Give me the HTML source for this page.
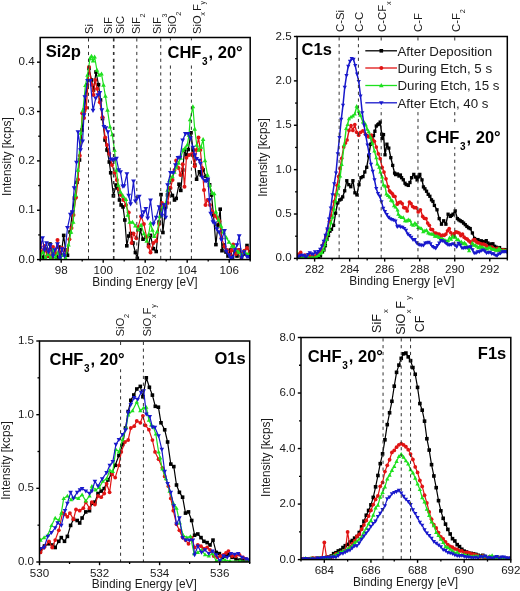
<!DOCTYPE html>
<html><head><meta charset="utf-8"><title>XPS spectra</title>
<style>html,body{margin:0;padding:0;background:#fff;width:520px;height:591px;overflow:hidden}svg{display:block}</style>
</head><body>
<svg width="520" height="591" viewBox="0 0 520 591" font-family='"Liberation Sans", Arial, sans-serif' fill="#1a1a1a">
<rect width="520" height="591" fill="#fff"/>
<defs>
<clipPath id="clip_si"><rect x="40.20" y="35.50" width="210.00" height="224.10"/></clipPath>
<clipPath id="clip_c"><rect x="297.10" y="34.50" width="210.20" height="223.90"/></clipPath>
<clipPath id="clip_o"><rect x="39.50" y="339.00" width="210.20" height="223.00"/></clipPath>
<clipPath id="clip_f"><rect x="301.00" y="335.50" width="209.80" height="224.10"/></clipPath>
</defs>
<g clip-path="url(#clip_si)">
<polyline points="40.50,252.00 43.00,258.00 45.00,249.00 48.00,256.00 50.00,244.00 52.00,257.00 54.50,252.00 57.00,258.00 59.00,247.00 61.00,255.00 63.70,235.40 65.50,250.00 67.50,255.30 70.00,232.00 72.30,212.60 74.50,198.00 77.00,182.30 79.50,160.00 82.00,130.00 84.50,110.00 87.00,85.00 89.00,68.50 91.50,80.00 93.50,90.00 96.00,72.00 98.50,84.70 100.50,100.00 102.50,118.60 105.00,140.00 107.00,150.00 109.30,162.00 110.70,172.80 113.40,195.80 116.00,185.00 117.30,188.00 119.50,200.00 121.10,205.00 123.00,206.90 124.80,220.00 126.80,245.80 128.70,236.00 130.60,233.50 133.00,243.00 135.40,252.50 137.30,258.20 140.10,229.70 143.00,239.20 145.80,237.30 148.60,244.90 150.50,235.40 153.40,248.70 156.20,251.50 159.10,222.10 161.00,194.60 162.90,232.50 165.70,206.90 167.50,195.00 169.50,188.00 172.40,195.50 174.50,200.00 176.20,198.40 179.00,184.20 180.80,190.40 182.70,170.00 184.50,150.40 186.40,155.00 188.20,149.50 191.00,132.80 193.00,150.00 194.80,165.00 196.60,179.20 199.40,171.80 201.20,175.00 203.10,169.90 205.90,176.40 207.80,180.00 209.60,184.80 211.50,195.00 213.50,215.00 215.90,244.60 218.00,225.00 220.20,209.20 222.00,250.70 224.00,245.00 226.00,252.00 228.00,256.00 230.50,250.00 232.50,257.00 235.00,252.00 237.00,256.00 239.50,250.00 241.50,257.00 244.00,254.00 247.00,245.50 249.80,255.00" fill="none" stroke="#000000" stroke-width="1.20" stroke-linejoin="round"/>
<rect x="38.70" y="250.20" width="3.60" height="3.60" fill="#000000"/>
<rect x="41.20" y="256.20" width="3.60" height="3.60" fill="#000000"/>
<rect x="43.20" y="247.20" width="3.60" height="3.60" fill="#000000"/>
<rect x="46.20" y="254.20" width="3.60" height="3.60" fill="#000000"/>
<rect x="48.20" y="242.20" width="3.60" height="3.60" fill="#000000"/>
<rect x="50.20" y="255.20" width="3.60" height="3.60" fill="#000000"/>
<rect x="52.70" y="250.20" width="3.60" height="3.60" fill="#000000"/>
<rect x="55.20" y="256.20" width="3.60" height="3.60" fill="#000000"/>
<rect x="57.20" y="245.20" width="3.60" height="3.60" fill="#000000"/>
<rect x="59.20" y="253.20" width="3.60" height="3.60" fill="#000000"/>
<rect x="61.90" y="233.60" width="3.60" height="3.60" fill="#000000"/>
<rect x="63.70" y="248.20" width="3.60" height="3.60" fill="#000000"/>
<rect x="65.70" y="253.50" width="3.60" height="3.60" fill="#000000"/>
<rect x="68.20" y="230.20" width="3.60" height="3.60" fill="#000000"/>
<rect x="70.50" y="210.80" width="3.60" height="3.60" fill="#000000"/>
<rect x="72.70" y="196.20" width="3.60" height="3.60" fill="#000000"/>
<rect x="75.20" y="180.50" width="3.60" height="3.60" fill="#000000"/>
<rect x="77.70" y="158.20" width="3.60" height="3.60" fill="#000000"/>
<rect x="80.20" y="128.20" width="3.60" height="3.60" fill="#000000"/>
<rect x="82.70" y="108.20" width="3.60" height="3.60" fill="#000000"/>
<rect x="85.20" y="83.20" width="3.60" height="3.60" fill="#000000"/>
<rect x="87.20" y="66.70" width="3.60" height="3.60" fill="#000000"/>
<rect x="89.70" y="78.20" width="3.60" height="3.60" fill="#000000"/>
<rect x="91.70" y="88.20" width="3.60" height="3.60" fill="#000000"/>
<rect x="94.20" y="70.20" width="3.60" height="3.60" fill="#000000"/>
<rect x="96.70" y="82.90" width="3.60" height="3.60" fill="#000000"/>
<rect x="98.70" y="98.20" width="3.60" height="3.60" fill="#000000"/>
<rect x="100.70" y="116.80" width="3.60" height="3.60" fill="#000000"/>
<rect x="103.20" y="138.20" width="3.60" height="3.60" fill="#000000"/>
<rect x="105.20" y="148.20" width="3.60" height="3.60" fill="#000000"/>
<rect x="107.50" y="160.20" width="3.60" height="3.60" fill="#000000"/>
<rect x="108.90" y="171.00" width="3.60" height="3.60" fill="#000000"/>
<rect x="111.60" y="194.00" width="3.60" height="3.60" fill="#000000"/>
<rect x="114.20" y="183.20" width="3.60" height="3.60" fill="#000000"/>
<rect x="115.50" y="186.20" width="3.60" height="3.60" fill="#000000"/>
<rect x="117.70" y="198.20" width="3.60" height="3.60" fill="#000000"/>
<rect x="119.30" y="203.20" width="3.60" height="3.60" fill="#000000"/>
<rect x="121.20" y="205.10" width="3.60" height="3.60" fill="#000000"/>
<rect x="123.00" y="218.20" width="3.60" height="3.60" fill="#000000"/>
<rect x="125.00" y="244.00" width="3.60" height="3.60" fill="#000000"/>
<rect x="126.90" y="234.20" width="3.60" height="3.60" fill="#000000"/>
<rect x="128.80" y="231.70" width="3.60" height="3.60" fill="#000000"/>
<rect x="131.20" y="241.20" width="3.60" height="3.60" fill="#000000"/>
<rect x="133.60" y="250.70" width="3.60" height="3.60" fill="#000000"/>
<rect x="135.50" y="256.40" width="3.60" height="3.60" fill="#000000"/>
<rect x="138.30" y="227.90" width="3.60" height="3.60" fill="#000000"/>
<rect x="141.20" y="237.40" width="3.60" height="3.60" fill="#000000"/>
<rect x="144.00" y="235.50" width="3.60" height="3.60" fill="#000000"/>
<rect x="146.80" y="243.10" width="3.60" height="3.60" fill="#000000"/>
<rect x="148.70" y="233.60" width="3.60" height="3.60" fill="#000000"/>
<rect x="151.60" y="246.90" width="3.60" height="3.60" fill="#000000"/>
<rect x="154.40" y="249.70" width="3.60" height="3.60" fill="#000000"/>
<rect x="157.30" y="220.30" width="3.60" height="3.60" fill="#000000"/>
<rect x="159.20" y="192.80" width="3.60" height="3.60" fill="#000000"/>
<rect x="161.10" y="230.70" width="3.60" height="3.60" fill="#000000"/>
<rect x="163.90" y="205.10" width="3.60" height="3.60" fill="#000000"/>
<rect x="165.70" y="193.20" width="3.60" height="3.60" fill="#000000"/>
<rect x="167.70" y="186.20" width="3.60" height="3.60" fill="#000000"/>
<rect x="170.60" y="193.70" width="3.60" height="3.60" fill="#000000"/>
<rect x="172.70" y="198.20" width="3.60" height="3.60" fill="#000000"/>
<rect x="174.40" y="196.60" width="3.60" height="3.60" fill="#000000"/>
<rect x="177.20" y="182.40" width="3.60" height="3.60" fill="#000000"/>
<rect x="179.00" y="188.60" width="3.60" height="3.60" fill="#000000"/>
<rect x="180.90" y="168.20" width="3.60" height="3.60" fill="#000000"/>
<rect x="182.70" y="148.60" width="3.60" height="3.60" fill="#000000"/>
<rect x="184.60" y="153.20" width="3.60" height="3.60" fill="#000000"/>
<rect x="186.40" y="147.70" width="3.60" height="3.60" fill="#000000"/>
<rect x="189.20" y="131.00" width="3.60" height="3.60" fill="#000000"/>
<rect x="191.20" y="148.20" width="3.60" height="3.60" fill="#000000"/>
<rect x="193.00" y="163.20" width="3.60" height="3.60" fill="#000000"/>
<rect x="194.80" y="177.40" width="3.60" height="3.60" fill="#000000"/>
<rect x="197.60" y="170.00" width="3.60" height="3.60" fill="#000000"/>
<rect x="199.40" y="173.20" width="3.60" height="3.60" fill="#000000"/>
<rect x="201.30" y="168.10" width="3.60" height="3.60" fill="#000000"/>
<rect x="204.10" y="174.60" width="3.60" height="3.60" fill="#000000"/>
<rect x="206.00" y="178.20" width="3.60" height="3.60" fill="#000000"/>
<rect x="207.80" y="183.00" width="3.60" height="3.60" fill="#000000"/>
<rect x="209.70" y="193.20" width="3.60" height="3.60" fill="#000000"/>
<rect x="211.70" y="213.20" width="3.60" height="3.60" fill="#000000"/>
<rect x="214.10" y="242.80" width="3.60" height="3.60" fill="#000000"/>
<rect x="216.20" y="223.20" width="3.60" height="3.60" fill="#000000"/>
<rect x="218.40" y="207.40" width="3.60" height="3.60" fill="#000000"/>
<rect x="220.20" y="248.90" width="3.60" height="3.60" fill="#000000"/>
<rect x="222.20" y="243.20" width="3.60" height="3.60" fill="#000000"/>
<rect x="224.20" y="250.20" width="3.60" height="3.60" fill="#000000"/>
<rect x="226.20" y="254.20" width="3.60" height="3.60" fill="#000000"/>
<rect x="228.70" y="248.20" width="3.60" height="3.60" fill="#000000"/>
<rect x="230.70" y="255.20" width="3.60" height="3.60" fill="#000000"/>
<rect x="233.20" y="250.20" width="3.60" height="3.60" fill="#000000"/>
<rect x="235.20" y="254.20" width="3.60" height="3.60" fill="#000000"/>
<rect x="237.70" y="248.20" width="3.60" height="3.60" fill="#000000"/>
<rect x="239.70" y="255.20" width="3.60" height="3.60" fill="#000000"/>
<rect x="242.20" y="252.20" width="3.60" height="3.60" fill="#000000"/>
<rect x="245.20" y="243.70" width="3.60" height="3.60" fill="#000000"/>
<rect x="248.00" y="253.20" width="3.60" height="3.60" fill="#000000"/>
<polyline points="40.50,243.00 42.50,252.00 44.50,246.00 47.00,256.00 49.00,250.00 51.00,258.00 53.00,247.00 55.50,254.00 57.50,240.00 60.00,256.00 62.00,248.00 64.50,255.00 67.00,250.00 69.40,239.20 71.50,228.00 73.50,215.00 76.00,197.40 78.00,179.40 79.80,155.70 82.20,113.20 84.00,118.00 86.30,107.80 89.00,67.10 91.70,84.70 93.50,95.00 95.30,80.00 97.10,88.80 99.80,102.30 102.50,117.20 105.20,137.60 107.00,145.00 109.30,153.80 112.00,165.00 114.70,172.80 116.80,180.00 118.80,189.00 121.00,195.00 123.50,200.00 126.00,205.00 128.70,212.60 131.60,243.00 133.50,233.50 136.30,238.20 138.20,226.90 141.10,216.40 143.90,224.00 146.70,237.30 148.60,246.80 150.50,252.50 153.40,243.00 156.20,241.10 159.10,224.00 161.90,203.10 164.80,205.00 167.60,203.10 170.50,188.00 172.50,180.00 174.50,170.00 176.20,160.60 178.50,168.00 180.50,175.00 182.70,164.30 184.50,186.70 186.40,157.80 189.20,155.10 192.00,154.10 194.70,166.20 196.50,150.00 198.50,137.40 200.30,150.00 202.20,168.10 204.00,190.00 205.50,204.90 207.50,200.00 210.00,205.00 212.50,212.00 215.00,216.00 217.50,218.00 219.40,221.30 221.50,238.00 224.50,246.40 227.00,250.00 230.00,255.00 231.60,250.44 233.20,244.60 236.00,254.00 238.50,250.00 241.00,256.00 242.70,253.18 244.40,250.70 247.00,248.00 249.80,252.00" fill="none" stroke="#e01414" stroke-width="1.20" stroke-linejoin="round"/>
<circle cx="40.50" cy="243.00" r="2.00" fill="#e01414"/>
<circle cx="42.50" cy="252.00" r="2.00" fill="#e01414"/>
<circle cx="44.50" cy="246.00" r="2.00" fill="#e01414"/>
<circle cx="47.00" cy="256.00" r="2.00" fill="#e01414"/>
<circle cx="49.00" cy="250.00" r="2.00" fill="#e01414"/>
<circle cx="51.00" cy="258.00" r="2.00" fill="#e01414"/>
<circle cx="53.00" cy="247.00" r="2.00" fill="#e01414"/>
<circle cx="55.50" cy="254.00" r="2.00" fill="#e01414"/>
<circle cx="57.50" cy="240.00" r="2.00" fill="#e01414"/>
<circle cx="60.00" cy="256.00" r="2.00" fill="#e01414"/>
<circle cx="62.00" cy="248.00" r="2.00" fill="#e01414"/>
<circle cx="64.50" cy="255.00" r="2.00" fill="#e01414"/>
<circle cx="67.00" cy="250.00" r="2.00" fill="#e01414"/>
<circle cx="69.40" cy="239.20" r="2.00" fill="#e01414"/>
<circle cx="71.50" cy="228.00" r="2.00" fill="#e01414"/>
<circle cx="73.50" cy="215.00" r="2.00" fill="#e01414"/>
<circle cx="76.00" cy="197.40" r="2.00" fill="#e01414"/>
<circle cx="78.00" cy="179.40" r="2.00" fill="#e01414"/>
<circle cx="79.80" cy="155.70" r="2.00" fill="#e01414"/>
<circle cx="82.20" cy="113.20" r="2.00" fill="#e01414"/>
<circle cx="84.00" cy="118.00" r="2.00" fill="#e01414"/>
<circle cx="86.30" cy="107.80" r="2.00" fill="#e01414"/>
<circle cx="89.00" cy="67.10" r="2.00" fill="#e01414"/>
<circle cx="91.70" cy="84.70" r="2.00" fill="#e01414"/>
<circle cx="93.50" cy="95.00" r="2.00" fill="#e01414"/>
<circle cx="95.30" cy="80.00" r="2.00" fill="#e01414"/>
<circle cx="97.10" cy="88.80" r="2.00" fill="#e01414"/>
<circle cx="99.80" cy="102.30" r="2.00" fill="#e01414"/>
<circle cx="102.50" cy="117.20" r="2.00" fill="#e01414"/>
<circle cx="105.20" cy="137.60" r="2.00" fill="#e01414"/>
<circle cx="107.00" cy="145.00" r="2.00" fill="#e01414"/>
<circle cx="109.30" cy="153.80" r="2.00" fill="#e01414"/>
<circle cx="112.00" cy="165.00" r="2.00" fill="#e01414"/>
<circle cx="114.70" cy="172.80" r="2.00" fill="#e01414"/>
<circle cx="116.80" cy="180.00" r="2.00" fill="#e01414"/>
<circle cx="118.80" cy="189.00" r="2.00" fill="#e01414"/>
<circle cx="121.00" cy="195.00" r="2.00" fill="#e01414"/>
<circle cx="123.50" cy="200.00" r="2.00" fill="#e01414"/>
<circle cx="126.00" cy="205.00" r="2.00" fill="#e01414"/>
<circle cx="128.70" cy="212.60" r="2.00" fill="#e01414"/>
<circle cx="131.60" cy="243.00" r="2.00" fill="#e01414"/>
<circle cx="133.50" cy="233.50" r="2.00" fill="#e01414"/>
<circle cx="136.30" cy="238.20" r="2.00" fill="#e01414"/>
<circle cx="138.20" cy="226.90" r="2.00" fill="#e01414"/>
<circle cx="141.10" cy="216.40" r="2.00" fill="#e01414"/>
<circle cx="143.90" cy="224.00" r="2.00" fill="#e01414"/>
<circle cx="146.70" cy="237.30" r="2.00" fill="#e01414"/>
<circle cx="148.60" cy="246.80" r="2.00" fill="#e01414"/>
<circle cx="150.50" cy="252.50" r="2.00" fill="#e01414"/>
<circle cx="153.40" cy="243.00" r="2.00" fill="#e01414"/>
<circle cx="156.20" cy="241.10" r="2.00" fill="#e01414"/>
<circle cx="159.10" cy="224.00" r="2.00" fill="#e01414"/>
<circle cx="161.90" cy="203.10" r="2.00" fill="#e01414"/>
<circle cx="164.80" cy="205.00" r="2.00" fill="#e01414"/>
<circle cx="167.60" cy="203.10" r="2.00" fill="#e01414"/>
<circle cx="170.50" cy="188.00" r="2.00" fill="#e01414"/>
<circle cx="172.50" cy="180.00" r="2.00" fill="#e01414"/>
<circle cx="174.50" cy="170.00" r="2.00" fill="#e01414"/>
<circle cx="176.20" cy="160.60" r="2.00" fill="#e01414"/>
<circle cx="178.50" cy="168.00" r="2.00" fill="#e01414"/>
<circle cx="180.50" cy="175.00" r="2.00" fill="#e01414"/>
<circle cx="182.70" cy="164.30" r="2.00" fill="#e01414"/>
<circle cx="184.50" cy="186.70" r="2.00" fill="#e01414"/>
<circle cx="186.40" cy="157.80" r="2.00" fill="#e01414"/>
<circle cx="189.20" cy="155.10" r="2.00" fill="#e01414"/>
<circle cx="192.00" cy="154.10" r="2.00" fill="#e01414"/>
<circle cx="194.70" cy="166.20" r="2.00" fill="#e01414"/>
<circle cx="196.50" cy="150.00" r="2.00" fill="#e01414"/>
<circle cx="198.50" cy="137.40" r="2.00" fill="#e01414"/>
<circle cx="200.30" cy="150.00" r="2.00" fill="#e01414"/>
<circle cx="202.20" cy="168.10" r="2.00" fill="#e01414"/>
<circle cx="204.00" cy="190.00" r="2.00" fill="#e01414"/>
<circle cx="205.50" cy="204.90" r="2.00" fill="#e01414"/>
<circle cx="207.50" cy="200.00" r="2.00" fill="#e01414"/>
<circle cx="210.00" cy="205.00" r="2.00" fill="#e01414"/>
<circle cx="212.50" cy="212.00" r="2.00" fill="#e01414"/>
<circle cx="215.00" cy="216.00" r="2.00" fill="#e01414"/>
<circle cx="217.50" cy="218.00" r="2.00" fill="#e01414"/>
<circle cx="219.40" cy="221.30" r="2.00" fill="#e01414"/>
<circle cx="221.50" cy="238.00" r="2.00" fill="#e01414"/>
<circle cx="224.50" cy="246.40" r="2.00" fill="#e01414"/>
<circle cx="227.00" cy="250.00" r="2.00" fill="#e01414"/>
<circle cx="230.00" cy="255.00" r="2.00" fill="#e01414"/>
<circle cx="231.60" cy="250.44" r="2.00" fill="#e01414"/>
<circle cx="233.20" cy="244.60" r="2.00" fill="#e01414"/>
<circle cx="236.00" cy="254.00" r="2.00" fill="#e01414"/>
<circle cx="238.50" cy="250.00" r="2.00" fill="#e01414"/>
<circle cx="241.00" cy="256.00" r="2.00" fill="#e01414"/>
<circle cx="242.70" cy="253.18" r="2.00" fill="#e01414"/>
<circle cx="244.40" cy="250.70" r="2.00" fill="#e01414"/>
<circle cx="247.00" cy="248.00" r="2.00" fill="#e01414"/>
<circle cx="249.80" cy="252.00" r="2.00" fill="#e01414"/>
<polyline points="40.50,257.00 43.00,252.00 45.50,258.00 48.00,254.00 50.50,258.00 53.00,250.00 55.50,257.00 58.00,253.00 60.50,258.00 63.00,255.00 65.50,258.00 68.50,244.90 71.00,232.00 73.20,222.10 75.50,195.00 78.00,170.00 80.80,133.10 83.00,110.00 85.40,85.40 87.50,75.00 90.00,58.50 91.50,56.20 93.10,60.80 94.60,56.90 96.90,70.00 99.00,75.00 101.50,73.80 103.50,85.00 105.40,96.20 107.50,110.00 110.00,126.90 112.30,134.60 114.50,150.00 116.50,170.00 118.30,185.10 120.50,192.00 123.00,196.00 125.90,199.30 127.80,215.00 129.70,222.10 132.50,222.10 135.40,225.90 138.20,229.70 141.10,225.00 143.90,233.50 146.70,241.10 148.60,234.70 150.50,223.10 152.40,230.00 154.30,236.30 157.20,231.60 160.00,216.40 162.90,206.90 165.70,203.10 167.60,190.00 169.50,180.40 172.40,176.60 174.30,172.00 176.20,167.10 178.50,163.00 180.60,158.00 183.00,150.00 185.20,148.00 187.30,144.80 189.00,135.00 190.10,119.70 192.90,106.70 194.70,129.00 196.80,145.00 198.80,150.00 201.00,147.00 203.10,139.30 205.00,160.60 207.50,175.00 209.50,185.00 212.40,193.20 214.20,193.70 215.90,211.80 218.50,220.00 221.00,226.00 223.50,232.00 226.30,237.70 229.00,242.00 232.00,246.00 233.90,246.57 235.80,249.80 238.50,252.00 241.50,255.00 244.50,252.00 247.00,254.00 249.60,253.30" fill="none" stroke="#1ee01e" stroke-width="1.20" stroke-linejoin="round"/>
<path d="M40.50 254.62L42.80 258.66L38.20 258.66Z" fill="#1ee01e"/>
<path d="M43.00 249.62L45.30 253.66L40.70 253.66Z" fill="#1ee01e"/>
<path d="M45.50 255.62L47.80 259.66L43.20 259.66Z" fill="#1ee01e"/>
<path d="M48.00 251.62L50.30 255.66L45.70 255.66Z" fill="#1ee01e"/>
<path d="M50.50 255.62L52.80 259.66L48.20 259.66Z" fill="#1ee01e"/>
<path d="M53.00 247.62L55.30 251.66L50.70 251.66Z" fill="#1ee01e"/>
<path d="M55.50 254.62L57.80 258.66L53.20 258.66Z" fill="#1ee01e"/>
<path d="M58.00 250.62L60.30 254.66L55.70 254.66Z" fill="#1ee01e"/>
<path d="M60.50 255.62L62.80 259.66L58.20 259.66Z" fill="#1ee01e"/>
<path d="M63.00 252.62L65.30 256.66L60.70 256.66Z" fill="#1ee01e"/>
<path d="M65.50 255.62L67.80 259.66L63.20 259.66Z" fill="#1ee01e"/>
<path d="M68.50 242.52L70.80 246.56L66.20 246.56Z" fill="#1ee01e"/>
<path d="M71.00 229.62L73.30 233.66L68.70 233.66Z" fill="#1ee01e"/>
<path d="M73.20 219.72L75.50 223.76L70.90 223.76Z" fill="#1ee01e"/>
<path d="M75.50 192.62L77.80 196.66L73.20 196.66Z" fill="#1ee01e"/>
<path d="M78.00 167.62L80.30 171.66L75.70 171.66Z" fill="#1ee01e"/>
<path d="M80.80 130.72L83.10 134.76L78.50 134.76Z" fill="#1ee01e"/>
<path d="M83.00 107.62L85.30 111.66L80.70 111.66Z" fill="#1ee01e"/>
<path d="M85.40 83.02L87.70 87.06L83.10 87.06Z" fill="#1ee01e"/>
<path d="M87.50 72.62L89.80 76.66L85.20 76.66Z" fill="#1ee01e"/>
<path d="M90.00 56.12L92.30 60.16L87.70 60.16Z" fill="#1ee01e"/>
<path d="M91.50 53.82L93.80 57.86L89.20 57.86Z" fill="#1ee01e"/>
<path d="M93.10 58.42L95.40 62.46L90.80 62.46Z" fill="#1ee01e"/>
<path d="M94.60 54.52L96.90 58.56L92.30 58.56Z" fill="#1ee01e"/>
<path d="M96.90 67.62L99.20 71.66L94.60 71.66Z" fill="#1ee01e"/>
<path d="M99.00 72.62L101.30 76.66L96.70 76.66Z" fill="#1ee01e"/>
<path d="M101.50 71.42L103.80 75.46L99.20 75.46Z" fill="#1ee01e"/>
<path d="M103.50 82.62L105.80 86.66L101.20 86.66Z" fill="#1ee01e"/>
<path d="M105.40 93.82L107.70 97.86L103.10 97.86Z" fill="#1ee01e"/>
<path d="M107.50 107.62L109.80 111.66L105.20 111.66Z" fill="#1ee01e"/>
<path d="M110.00 124.52L112.30 128.56L107.70 128.56Z" fill="#1ee01e"/>
<path d="M112.30 132.22L114.60 136.26L110.00 136.26Z" fill="#1ee01e"/>
<path d="M114.50 147.62L116.80 151.66L112.20 151.66Z" fill="#1ee01e"/>
<path d="M116.50 167.62L118.80 171.66L114.20 171.66Z" fill="#1ee01e"/>
<path d="M118.30 182.72L120.60 186.76L116.00 186.76Z" fill="#1ee01e"/>
<path d="M120.50 189.62L122.80 193.66L118.20 193.66Z" fill="#1ee01e"/>
<path d="M123.00 193.62L125.30 197.66L120.70 197.66Z" fill="#1ee01e"/>
<path d="M125.90 196.92L128.20 200.96L123.60 200.96Z" fill="#1ee01e"/>
<path d="M127.80 212.62L130.10 216.66L125.50 216.66Z" fill="#1ee01e"/>
<path d="M129.70 219.72L132.00 223.76L127.40 223.76Z" fill="#1ee01e"/>
<path d="M132.50 219.72L134.80 223.76L130.20 223.76Z" fill="#1ee01e"/>
<path d="M135.40 223.52L137.70 227.56L133.10 227.56Z" fill="#1ee01e"/>
<path d="M138.20 227.32L140.50 231.36L135.90 231.36Z" fill="#1ee01e"/>
<path d="M141.10 222.62L143.40 226.66L138.80 226.66Z" fill="#1ee01e"/>
<path d="M143.90 231.12L146.20 235.16L141.60 235.16Z" fill="#1ee01e"/>
<path d="M146.70 238.72L149.00 242.76L144.40 242.76Z" fill="#1ee01e"/>
<path d="M148.60 232.33L150.90 236.37L146.30 236.37Z" fill="#1ee01e"/>
<path d="M150.50 220.72L152.80 224.76L148.20 224.76Z" fill="#1ee01e"/>
<path d="M152.40 227.62L154.70 231.66L150.10 231.66Z" fill="#1ee01e"/>
<path d="M154.30 233.92L156.60 237.96L152.00 237.96Z" fill="#1ee01e"/>
<path d="M157.20 229.22L159.50 233.26L154.90 233.26Z" fill="#1ee01e"/>
<path d="M160.00 214.02L162.30 218.06L157.70 218.06Z" fill="#1ee01e"/>
<path d="M162.90 204.52L165.20 208.56L160.60 208.56Z" fill="#1ee01e"/>
<path d="M165.70 200.72L168.00 204.76L163.40 204.76Z" fill="#1ee01e"/>
<path d="M167.60 187.62L169.90 191.66L165.30 191.66Z" fill="#1ee01e"/>
<path d="M169.50 178.02L171.80 182.06L167.20 182.06Z" fill="#1ee01e"/>
<path d="M172.40 174.22L174.70 178.26L170.10 178.26Z" fill="#1ee01e"/>
<path d="M174.30 169.62L176.60 173.66L172.00 173.66Z" fill="#1ee01e"/>
<path d="M176.20 164.72L178.50 168.76L173.90 168.76Z" fill="#1ee01e"/>
<path d="M178.50 160.62L180.80 164.66L176.20 164.66Z" fill="#1ee01e"/>
<path d="M180.60 155.62L182.90 159.66L178.30 159.66Z" fill="#1ee01e"/>
<path d="M183.00 147.62L185.30 151.66L180.70 151.66Z" fill="#1ee01e"/>
<path d="M185.20 145.62L187.50 149.66L182.90 149.66Z" fill="#1ee01e"/>
<path d="M187.30 142.42L189.60 146.46L185.00 146.46Z" fill="#1ee01e"/>
<path d="M189.00 132.62L191.30 136.66L186.70 136.66Z" fill="#1ee01e"/>
<path d="M190.10 117.32L192.40 121.36L187.80 121.36Z" fill="#1ee01e"/>
<path d="M192.90 104.32L195.20 108.36L190.60 108.36Z" fill="#1ee01e"/>
<path d="M194.70 126.62L197.00 130.66L192.40 130.66Z" fill="#1ee01e"/>
<path d="M196.80 142.62L199.10 146.66L194.50 146.66Z" fill="#1ee01e"/>
<path d="M198.80 147.62L201.10 151.66L196.50 151.66Z" fill="#1ee01e"/>
<path d="M201.00 144.62L203.30 148.66L198.70 148.66Z" fill="#1ee01e"/>
<path d="M203.10 136.92L205.40 140.96L200.80 140.96Z" fill="#1ee01e"/>
<path d="M205.00 158.22L207.30 162.26L202.70 162.26Z" fill="#1ee01e"/>
<path d="M207.50 172.62L209.80 176.66L205.20 176.66Z" fill="#1ee01e"/>
<path d="M209.50 182.62L211.80 186.66L207.20 186.66Z" fill="#1ee01e"/>
<path d="M212.40 190.82L214.70 194.86L210.10 194.86Z" fill="#1ee01e"/>
<path d="M214.20 191.32L216.50 195.36L211.90 195.36Z" fill="#1ee01e"/>
<path d="M215.90 209.42L218.20 213.46L213.60 213.46Z" fill="#1ee01e"/>
<path d="M218.50 217.62L220.80 221.66L216.20 221.66Z" fill="#1ee01e"/>
<path d="M221.00 223.62L223.30 227.66L218.70 227.66Z" fill="#1ee01e"/>
<path d="M223.50 229.62L225.80 233.66L221.20 233.66Z" fill="#1ee01e"/>
<path d="M226.30 235.32L228.60 239.36L224.00 239.36Z" fill="#1ee01e"/>
<path d="M229.00 239.62L231.30 243.66L226.70 243.66Z" fill="#1ee01e"/>
<path d="M232.00 243.62L234.30 247.66L229.70 247.66Z" fill="#1ee01e"/>
<path d="M233.90 244.19L236.20 248.23L231.60 248.23Z" fill="#1ee01e"/>
<path d="M235.80 247.42L238.10 251.46L233.50 251.46Z" fill="#1ee01e"/>
<path d="M238.50 249.62L240.80 253.66L236.20 253.66Z" fill="#1ee01e"/>
<path d="M241.50 252.62L243.80 256.66L239.20 256.66Z" fill="#1ee01e"/>
<path d="M244.50 249.62L246.80 253.66L242.20 253.66Z" fill="#1ee01e"/>
<path d="M247.00 251.62L249.30 255.66L244.70 255.66Z" fill="#1ee01e"/>
<path d="M249.60 250.92L251.90 254.96L247.30 254.96Z" fill="#1ee01e"/>
<polyline points="40.50,248.00 42.50,238.00 44.50,250.00 46.50,243.00 48.50,252.00 50.50,245.00 53.00,256.00 55.00,250.00 57.50,244.00 60.00,258.00 62.00,249.00 64.50,256.00 67.50,227.80 70.40,214.50 72.30,212.00 74.20,188.00 76.50,162.50 78.00,132.00 80.50,150.00 82.60,141.20 84.00,115.00 84.90,96.90 87.60,80.70 90.30,80.70 93.00,110.50 95.70,98.30 97.80,95.00 99.80,92.80 101.80,110.00 103.90,126.70 105.90,128.00 107.90,132.10 110.70,159.20 112.70,160.00 114.70,159.20 116.40,158.50 118.80,170.10 120.50,172.00 122.80,186.30 124.00,186.10 126.90,174.10 128.70,195.50 130.60,204.10 133.50,181.30 135.40,201.20 137.30,198.00 139.20,196.50 142.00,216.40 143.90,212.06 145.80,208.80 147.70,218.30 150.50,200.30 153.40,224.00 156.20,217.40 159.10,206.90 161.90,215.50 163.80,205.00 165.70,217.40 167.60,185.00 170.50,172.80 173.30,172.80 175.50,165.00 178.00,157.80 180.00,157.60 182.70,140.20 185.40,133.70 188.20,133.70 190.50,138.00 192.90,147.60 194.80,155.00 196.60,158.80 199.40,160.60 200.40,163.50 202.20,177.40 205.00,181.10 206.40,180.70 207.80,179.20 209.50,200.00 210.70,213.50 213.00,222.00 214.90,223.32 216.80,229.10 219.00,232.00 221.50,240.00 224.50,230.80 226.30,251.50 229.00,255.00 230.65,258.06 232.30,257.60 235.00,250.00 237.00,245.00 239.20,236.00 241.80,257.60 244.00,252.00 247.00,256.70 249.80,258.00" fill="none" stroke="#1818cc" stroke-width="1.20" stroke-linejoin="round"/>
<path d="M40.50 250.51L42.92 246.24L38.08 246.24Z" fill="#1818cc"/>
<path d="M42.50 240.51L44.92 236.24L40.08 236.24Z" fill="#1818cc"/>
<path d="M44.50 252.51L46.92 248.24L42.08 248.24Z" fill="#1818cc"/>
<path d="M46.50 245.51L48.92 241.24L44.08 241.24Z" fill="#1818cc"/>
<path d="M48.50 254.51L50.92 250.24L46.08 250.24Z" fill="#1818cc"/>
<path d="M50.50 247.51L52.92 243.24L48.08 243.24Z" fill="#1818cc"/>
<path d="M53.00 258.51L55.42 254.24L50.58 254.24Z" fill="#1818cc"/>
<path d="M55.00 252.51L57.42 248.24L52.58 248.24Z" fill="#1818cc"/>
<path d="M57.50 246.51L59.92 242.24L55.08 242.24Z" fill="#1818cc"/>
<path d="M60.00 260.51L62.42 256.24L57.58 256.24Z" fill="#1818cc"/>
<path d="M62.00 251.51L64.42 247.24L59.58 247.24Z" fill="#1818cc"/>
<path d="M64.50 258.51L66.92 254.24L62.08 254.24Z" fill="#1818cc"/>
<path d="M67.50 230.31L69.92 226.04L65.08 226.04Z" fill="#1818cc"/>
<path d="M70.40 217.01L72.82 212.74L67.98 212.74Z" fill="#1818cc"/>
<path d="M72.30 214.51L74.72 210.24L69.88 210.24Z" fill="#1818cc"/>
<path d="M74.20 190.51L76.62 186.24L71.78 186.24Z" fill="#1818cc"/>
<path d="M76.50 165.01L78.92 160.74L74.08 160.74Z" fill="#1818cc"/>
<path d="M78.00 134.51L80.42 130.24L75.58 130.24Z" fill="#1818cc"/>
<path d="M80.50 152.51L82.92 148.24L78.08 148.24Z" fill="#1818cc"/>
<path d="M82.60 143.71L85.02 139.44L80.18 139.44Z" fill="#1818cc"/>
<path d="M84.00 117.51L86.42 113.24L81.58 113.24Z" fill="#1818cc"/>
<path d="M84.90 99.41L87.32 95.14L82.48 95.14Z" fill="#1818cc"/>
<path d="M87.60 83.21L90.02 78.94L85.18 78.94Z" fill="#1818cc"/>
<path d="M90.30 83.21L92.72 78.94L87.88 78.94Z" fill="#1818cc"/>
<path d="M93.00 113.01L95.42 108.74L90.58 108.74Z" fill="#1818cc"/>
<path d="M95.70 100.81L98.12 96.54L93.28 96.54Z" fill="#1818cc"/>
<path d="M97.80 97.51L100.22 93.24L95.38 93.24Z" fill="#1818cc"/>
<path d="M99.80 95.31L102.22 91.04L97.38 91.04Z" fill="#1818cc"/>
<path d="M101.80 112.51L104.22 108.24L99.38 108.24Z" fill="#1818cc"/>
<path d="M103.90 129.21L106.32 124.94L101.48 124.94Z" fill="#1818cc"/>
<path d="M105.90 130.51L108.32 126.24L103.48 126.24Z" fill="#1818cc"/>
<path d="M107.90 134.61L110.32 130.34L105.48 130.34Z" fill="#1818cc"/>
<path d="M110.70 161.71L113.12 157.44L108.28 157.44Z" fill="#1818cc"/>
<path d="M112.70 162.51L115.12 158.24L110.28 158.24Z" fill="#1818cc"/>
<path d="M114.70 161.71L117.12 157.44L112.28 157.44Z" fill="#1818cc"/>
<path d="M116.40 161.01L118.82 156.74L113.98 156.74Z" fill="#1818cc"/>
<path d="M118.80 172.61L121.22 168.34L116.38 168.34Z" fill="#1818cc"/>
<path d="M120.50 174.51L122.92 170.24L118.08 170.24Z" fill="#1818cc"/>
<path d="M122.80 188.81L125.22 184.54L120.38 184.54Z" fill="#1818cc"/>
<path d="M124.00 188.61L126.42 184.34L121.58 184.34Z" fill="#1818cc"/>
<path d="M126.90 176.61L129.32 172.34L124.48 172.34Z" fill="#1818cc"/>
<path d="M128.70 198.01L131.12 193.74L126.28 193.74Z" fill="#1818cc"/>
<path d="M130.60 206.61L133.02 202.34L128.18 202.34Z" fill="#1818cc"/>
<path d="M133.50 183.81L135.92 179.54L131.08 179.54Z" fill="#1818cc"/>
<path d="M135.40 203.71L137.82 199.44L132.98 199.44Z" fill="#1818cc"/>
<path d="M137.30 200.51L139.72 196.24L134.88 196.24Z" fill="#1818cc"/>
<path d="M139.20 199.01L141.62 194.74L136.78 194.74Z" fill="#1818cc"/>
<path d="M142.00 218.91L144.42 214.64L139.58 214.64Z" fill="#1818cc"/>
<path d="M143.90 214.57L146.32 210.31L141.48 210.31Z" fill="#1818cc"/>
<path d="M145.80 211.31L148.22 207.04L143.38 207.04Z" fill="#1818cc"/>
<path d="M147.70 220.81L150.12 216.54L145.28 216.54Z" fill="#1818cc"/>
<path d="M150.50 202.81L152.92 198.54L148.08 198.54Z" fill="#1818cc"/>
<path d="M153.40 226.51L155.82 222.24L150.98 222.24Z" fill="#1818cc"/>
<path d="M156.20 219.91L158.62 215.64L153.78 215.64Z" fill="#1818cc"/>
<path d="M159.10 209.41L161.52 205.14L156.68 205.14Z" fill="#1818cc"/>
<path d="M161.90 218.01L164.32 213.74L159.48 213.74Z" fill="#1818cc"/>
<path d="M163.80 207.51L166.22 203.24L161.38 203.24Z" fill="#1818cc"/>
<path d="M165.70 219.91L168.12 215.64L163.28 215.64Z" fill="#1818cc"/>
<path d="M167.60 187.51L170.02 183.24L165.18 183.24Z" fill="#1818cc"/>
<path d="M170.50 175.31L172.92 171.04L168.08 171.04Z" fill="#1818cc"/>
<path d="M173.30 175.31L175.72 171.04L170.88 171.04Z" fill="#1818cc"/>
<path d="M175.50 167.51L177.92 163.24L173.08 163.24Z" fill="#1818cc"/>
<path d="M178.00 160.31L180.42 156.04L175.58 156.04Z" fill="#1818cc"/>
<path d="M180.00 160.11L182.42 155.84L177.58 155.84Z" fill="#1818cc"/>
<path d="M182.70 142.71L185.12 138.44L180.28 138.44Z" fill="#1818cc"/>
<path d="M185.40 136.21L187.82 131.94L182.98 131.94Z" fill="#1818cc"/>
<path d="M188.20 136.21L190.62 131.94L185.78 131.94Z" fill="#1818cc"/>
<path d="M190.50 140.51L192.92 136.24L188.08 136.24Z" fill="#1818cc"/>
<path d="M192.90 150.11L195.32 145.84L190.48 145.84Z" fill="#1818cc"/>
<path d="M194.80 157.51L197.22 153.24L192.38 153.24Z" fill="#1818cc"/>
<path d="M196.60 161.31L199.02 157.04L194.18 157.04Z" fill="#1818cc"/>
<path d="M199.40 163.11L201.82 158.84L196.98 158.84Z" fill="#1818cc"/>
<path d="M200.40 166.01L202.82 161.74L197.98 161.74Z" fill="#1818cc"/>
<path d="M202.20 179.91L204.62 175.64L199.78 175.64Z" fill="#1818cc"/>
<path d="M205.00 183.61L207.42 179.34L202.58 179.34Z" fill="#1818cc"/>
<path d="M206.40 183.21L208.82 178.94L203.98 178.94Z" fill="#1818cc"/>
<path d="M207.80 181.71L210.22 177.44L205.38 177.44Z" fill="#1818cc"/>
<path d="M209.50 202.51L211.92 198.24L207.08 198.24Z" fill="#1818cc"/>
<path d="M210.70 216.01L213.12 211.74L208.28 211.74Z" fill="#1818cc"/>
<path d="M213.00 224.51L215.42 220.24L210.58 220.24Z" fill="#1818cc"/>
<path d="M214.90 225.83L217.32 221.56L212.48 221.56Z" fill="#1818cc"/>
<path d="M216.80 231.61L219.22 227.34L214.38 227.34Z" fill="#1818cc"/>
<path d="M219.00 234.51L221.42 230.24L216.58 230.24Z" fill="#1818cc"/>
<path d="M221.50 242.51L223.92 238.24L219.08 238.24Z" fill="#1818cc"/>
<path d="M224.50 233.31L226.92 229.04L222.08 229.04Z" fill="#1818cc"/>
<path d="M226.30 254.01L228.72 249.74L223.88 249.74Z" fill="#1818cc"/>
<path d="M229.00 257.51L231.42 253.24L226.58 253.24Z" fill="#1818cc"/>
<path d="M230.65 260.57L233.07 256.30L228.23 256.30Z" fill="#1818cc"/>
<path d="M232.30 260.11L234.72 255.84L229.88 255.84Z" fill="#1818cc"/>
<path d="M235.00 252.51L237.42 248.24L232.58 248.24Z" fill="#1818cc"/>
<path d="M237.00 247.51L239.42 243.24L234.58 243.24Z" fill="#1818cc"/>
<path d="M239.20 238.51L241.62 234.24L236.78 234.24Z" fill="#1818cc"/>
<path d="M241.80 260.11L244.22 255.84L239.38 255.84Z" fill="#1818cc"/>
<path d="M244.00 254.51L246.42 250.24L241.58 250.24Z" fill="#1818cc"/>
<path d="M247.00 259.21L249.42 254.94L244.58 254.94Z" fill="#1818cc"/>
<path d="M249.80 260.51L252.22 256.24L247.38 256.24Z" fill="#1818cc"/>
</g>
<g clip-path="url(#clip_c)">
<polyline points="297.50,258.20 299.38,256.98 301.25,258.40 303.12,258.40 305.00,258.20 306.75,257.64 308.50,256.77 310.25,257.98 312.00,258.00 314.00,258.38 316.00,257.80 318.30,257.90 320.50,256.00 322.50,252.00 323.95,249.95 325.40,245.70 326.95,239.38 328.50,235.50 330.00,231.16 331.50,229.40 333.60,225.40 335.60,213.20 337.60,203.00 339.70,200.00 341.20,199.16 342.70,196.90 344.70,190.80 346.80,180.70 348.80,184.70 350.80,186.70 352.90,180.70 354.90,192.80 356.90,194.90 359.00,184.70 361.00,177.60 363.00,176.60 364.80,172.00 366.70,167.30 368.70,155.80 370.60,144.20 372.20,140.00 373.50,135.60 374.90,131.27 376.30,126.00 377.90,124.60 378.70,124.00 380.20,122.10 381.70,134.20 382.10,138.50 383.50,134.60 385.00,154.80 386.90,144.20 388.80,148.10 390.80,157.70 392.70,165.40 394.60,173.10 395.60,174.60 397.50,174.00 398.95,176.03 400.40,175.00 401.60,177.70 403.30,179.80 405.00,183.20 406.20,184.60 408.30,185.40 409.95,182.53 411.60,177.70 413.80,174.40 415.45,177.05 417.10,179.90 418.45,176.88 419.80,174.40 422.00,179.90 423.45,186.92 424.90,188.80 426.55,191.26 428.20,194.30 429.85,196.27 431.50,199.80 432.95,201.46 434.40,205.40 437.00,209.80 439.20,218.60 441.50,224.20 443.70,220.80 445.90,224.20 448.10,214.20 450.30,216.40 451.65,215.40 453.00,214.20 455.20,210.90 457.40,218.60 458.85,219.85 460.30,220.80 461.95,221.61 463.60,223.10 465.25,224.69 466.90,226.40 468.55,227.77 470.20,228.60 472.40,233.00 474.60,238.50 476.30,239.74 478.00,239.60 479.65,241.30 481.30,240.80 482.95,241.56 484.60,241.90 486.25,240.66 487.90,243.00 489.55,244.25 491.20,244.10 492.90,243.78 494.60,246.30 496.25,247.23 497.90,248.50 499.55,247.58 501.20,249.60 502.85,249.60 504.50,249.60 507.00,250.00" fill="none" stroke="#000000" stroke-width="1.40" stroke-linejoin="round"/>
<rect x="295.85" y="256.55" width="3.30" height="3.30" fill="#000000"/>
<rect x="297.73" y="255.33" width="3.30" height="3.30" fill="#000000"/>
<rect x="299.60" y="256.75" width="3.30" height="3.30" fill="#000000"/>
<rect x="301.48" y="256.75" width="3.30" height="3.30" fill="#000000"/>
<rect x="303.35" y="256.55" width="3.30" height="3.30" fill="#000000"/>
<rect x="305.10" y="255.99" width="3.30" height="3.30" fill="#000000"/>
<rect x="306.85" y="255.12" width="3.30" height="3.30" fill="#000000"/>
<rect x="308.60" y="256.33" width="3.30" height="3.30" fill="#000000"/>
<rect x="310.35" y="256.35" width="3.30" height="3.30" fill="#000000"/>
<rect x="312.35" y="256.73" width="3.30" height="3.30" fill="#000000"/>
<rect x="314.35" y="256.15" width="3.30" height="3.30" fill="#000000"/>
<rect x="316.65" y="256.25" width="3.30" height="3.30" fill="#000000"/>
<rect x="318.85" y="254.35" width="3.30" height="3.30" fill="#000000"/>
<rect x="320.85" y="250.35" width="3.30" height="3.30" fill="#000000"/>
<rect x="322.30" y="248.30" width="3.30" height="3.30" fill="#000000"/>
<rect x="323.75" y="244.05" width="3.30" height="3.30" fill="#000000"/>
<rect x="325.30" y="237.73" width="3.30" height="3.30" fill="#000000"/>
<rect x="326.85" y="233.85" width="3.30" height="3.30" fill="#000000"/>
<rect x="328.35" y="229.51" width="3.30" height="3.30" fill="#000000"/>
<rect x="329.85" y="227.75" width="3.30" height="3.30" fill="#000000"/>
<rect x="331.95" y="223.75" width="3.30" height="3.30" fill="#000000"/>
<rect x="333.95" y="211.55" width="3.30" height="3.30" fill="#000000"/>
<rect x="335.95" y="201.35" width="3.30" height="3.30" fill="#000000"/>
<rect x="338.05" y="198.35" width="3.30" height="3.30" fill="#000000"/>
<rect x="339.55" y="197.51" width="3.30" height="3.30" fill="#000000"/>
<rect x="341.05" y="195.25" width="3.30" height="3.30" fill="#000000"/>
<rect x="343.05" y="189.15" width="3.30" height="3.30" fill="#000000"/>
<rect x="345.15" y="179.05" width="3.30" height="3.30" fill="#000000"/>
<rect x="347.15" y="183.05" width="3.30" height="3.30" fill="#000000"/>
<rect x="349.15" y="185.05" width="3.30" height="3.30" fill="#000000"/>
<rect x="351.25" y="179.05" width="3.30" height="3.30" fill="#000000"/>
<rect x="353.25" y="191.15" width="3.30" height="3.30" fill="#000000"/>
<rect x="355.25" y="193.25" width="3.30" height="3.30" fill="#000000"/>
<rect x="357.35" y="183.05" width="3.30" height="3.30" fill="#000000"/>
<rect x="359.35" y="175.95" width="3.30" height="3.30" fill="#000000"/>
<rect x="361.35" y="174.95" width="3.30" height="3.30" fill="#000000"/>
<rect x="363.15" y="170.35" width="3.30" height="3.30" fill="#000000"/>
<rect x="365.05" y="165.65" width="3.30" height="3.30" fill="#000000"/>
<rect x="367.05" y="154.15" width="3.30" height="3.30" fill="#000000"/>
<rect x="368.95" y="142.55" width="3.30" height="3.30" fill="#000000"/>
<rect x="370.55" y="138.35" width="3.30" height="3.30" fill="#000000"/>
<rect x="371.85" y="133.95" width="3.30" height="3.30" fill="#000000"/>
<rect x="373.25" y="129.62" width="3.30" height="3.30" fill="#000000"/>
<rect x="374.65" y="124.35" width="3.30" height="3.30" fill="#000000"/>
<rect x="376.25" y="122.95" width="3.30" height="3.30" fill="#000000"/>
<rect x="377.05" y="122.35" width="3.30" height="3.30" fill="#000000"/>
<rect x="378.55" y="120.45" width="3.30" height="3.30" fill="#000000"/>
<rect x="380.05" y="132.55" width="3.30" height="3.30" fill="#000000"/>
<rect x="380.45" y="136.85" width="3.30" height="3.30" fill="#000000"/>
<rect x="381.85" y="132.95" width="3.30" height="3.30" fill="#000000"/>
<rect x="383.35" y="153.15" width="3.30" height="3.30" fill="#000000"/>
<rect x="385.25" y="142.55" width="3.30" height="3.30" fill="#000000"/>
<rect x="387.15" y="146.45" width="3.30" height="3.30" fill="#000000"/>
<rect x="389.15" y="156.05" width="3.30" height="3.30" fill="#000000"/>
<rect x="391.05" y="163.75" width="3.30" height="3.30" fill="#000000"/>
<rect x="392.95" y="171.45" width="3.30" height="3.30" fill="#000000"/>
<rect x="393.95" y="172.95" width="3.30" height="3.30" fill="#000000"/>
<rect x="395.85" y="172.35" width="3.30" height="3.30" fill="#000000"/>
<rect x="397.30" y="174.38" width="3.30" height="3.30" fill="#000000"/>
<rect x="398.75" y="173.35" width="3.30" height="3.30" fill="#000000"/>
<rect x="399.95" y="176.05" width="3.30" height="3.30" fill="#000000"/>
<rect x="401.65" y="178.15" width="3.30" height="3.30" fill="#000000"/>
<rect x="403.35" y="181.55" width="3.30" height="3.30" fill="#000000"/>
<rect x="404.55" y="182.95" width="3.30" height="3.30" fill="#000000"/>
<rect x="406.65" y="183.75" width="3.30" height="3.30" fill="#000000"/>
<rect x="408.30" y="180.88" width="3.30" height="3.30" fill="#000000"/>
<rect x="409.95" y="176.05" width="3.30" height="3.30" fill="#000000"/>
<rect x="412.15" y="172.75" width="3.30" height="3.30" fill="#000000"/>
<rect x="413.80" y="175.40" width="3.30" height="3.30" fill="#000000"/>
<rect x="415.45" y="178.25" width="3.30" height="3.30" fill="#000000"/>
<rect x="416.80" y="175.23" width="3.30" height="3.30" fill="#000000"/>
<rect x="418.15" y="172.75" width="3.30" height="3.30" fill="#000000"/>
<rect x="420.35" y="178.25" width="3.30" height="3.30" fill="#000000"/>
<rect x="421.80" y="185.27" width="3.30" height="3.30" fill="#000000"/>
<rect x="423.25" y="187.15" width="3.30" height="3.30" fill="#000000"/>
<rect x="424.90" y="189.61" width="3.30" height="3.30" fill="#000000"/>
<rect x="426.55" y="192.65" width="3.30" height="3.30" fill="#000000"/>
<rect x="428.20" y="194.62" width="3.30" height="3.30" fill="#000000"/>
<rect x="429.85" y="198.15" width="3.30" height="3.30" fill="#000000"/>
<rect x="431.30" y="199.81" width="3.30" height="3.30" fill="#000000"/>
<rect x="432.75" y="203.75" width="3.30" height="3.30" fill="#000000"/>
<rect x="435.35" y="208.15" width="3.30" height="3.30" fill="#000000"/>
<rect x="437.55" y="216.95" width="3.30" height="3.30" fill="#000000"/>
<rect x="439.85" y="222.55" width="3.30" height="3.30" fill="#000000"/>
<rect x="442.05" y="219.15" width="3.30" height="3.30" fill="#000000"/>
<rect x="444.25" y="222.55" width="3.30" height="3.30" fill="#000000"/>
<rect x="446.45" y="212.55" width="3.30" height="3.30" fill="#000000"/>
<rect x="448.65" y="214.75" width="3.30" height="3.30" fill="#000000"/>
<rect x="450.00" y="213.75" width="3.30" height="3.30" fill="#000000"/>
<rect x="451.35" y="212.55" width="3.30" height="3.30" fill="#000000"/>
<rect x="453.55" y="209.25" width="3.30" height="3.30" fill="#000000"/>
<rect x="455.75" y="216.95" width="3.30" height="3.30" fill="#000000"/>
<rect x="457.20" y="218.20" width="3.30" height="3.30" fill="#000000"/>
<rect x="458.65" y="219.15" width="3.30" height="3.30" fill="#000000"/>
<rect x="460.30" y="219.96" width="3.30" height="3.30" fill="#000000"/>
<rect x="461.95" y="221.45" width="3.30" height="3.30" fill="#000000"/>
<rect x="463.60" y="223.04" width="3.30" height="3.30" fill="#000000"/>
<rect x="465.25" y="224.75" width="3.30" height="3.30" fill="#000000"/>
<rect x="466.90" y="226.12" width="3.30" height="3.30" fill="#000000"/>
<rect x="468.55" y="226.95" width="3.30" height="3.30" fill="#000000"/>
<rect x="470.75" y="231.35" width="3.30" height="3.30" fill="#000000"/>
<rect x="472.95" y="236.85" width="3.30" height="3.30" fill="#000000"/>
<rect x="474.65" y="238.09" width="3.30" height="3.30" fill="#000000"/>
<rect x="476.35" y="237.95" width="3.30" height="3.30" fill="#000000"/>
<rect x="478.00" y="239.65" width="3.30" height="3.30" fill="#000000"/>
<rect x="479.65" y="239.15" width="3.30" height="3.30" fill="#000000"/>
<rect x="481.30" y="239.91" width="3.30" height="3.30" fill="#000000"/>
<rect x="482.95" y="240.25" width="3.30" height="3.30" fill="#000000"/>
<rect x="484.60" y="239.01" width="3.30" height="3.30" fill="#000000"/>
<rect x="486.25" y="241.35" width="3.30" height="3.30" fill="#000000"/>
<rect x="487.90" y="242.60" width="3.30" height="3.30" fill="#000000"/>
<rect x="489.55" y="242.45" width="3.30" height="3.30" fill="#000000"/>
<rect x="491.25" y="242.13" width="3.30" height="3.30" fill="#000000"/>
<rect x="492.95" y="244.65" width="3.30" height="3.30" fill="#000000"/>
<rect x="494.60" y="245.58" width="3.30" height="3.30" fill="#000000"/>
<rect x="496.25" y="246.85" width="3.30" height="3.30" fill="#000000"/>
<rect x="497.90" y="245.93" width="3.30" height="3.30" fill="#000000"/>
<rect x="499.55" y="247.95" width="3.30" height="3.30" fill="#000000"/>
<rect x="501.20" y="247.95" width="3.30" height="3.30" fill="#000000"/>
<rect x="502.85" y="247.95" width="3.30" height="3.30" fill="#000000"/>
<rect x="505.35" y="248.35" width="3.30" height="3.30" fill="#000000"/>
<polyline points="297.50,255.00 299.00,254.00 300.70,252.40 302.50,256.00 305.00,255.00 307.00,257.00 309.00,255.00 311.00,257.00 313.00,255.50 315.00,256.50 317.00,254.00 319.00,252.00 321.00,250.50 322.50,245.30 324.00,243.00 325.80,236.00 327.50,229.40 329.50,221.30 331.00,215.43 332.50,209.10 334.05,201.72 335.60,194.90 337.10,185.27 338.60,176.60 340.15,168.42 341.70,158.30 343.70,147.10 345.50,143.00 347.10,140.00 349.00,130.40 351.00,125.60 352.90,130.40 354.80,124.60 356.70,132.30 358.70,135.20 360.60,132.30 362.90,130.80 365.40,134.20 366.95,135.57 368.50,136.80 369.90,135.63 371.30,135.00 372.85,139.95 374.40,141.30 376.30,147.10 378.30,153.80 380.20,158.70 382.10,167.30 384.00,172.10 386.00,178.80 387.90,186.50 389.50,190.80 390.80,192.30 392.50,193.90 393.70,196.20 395.00,196.50 397.20,204.20 398.85,202.61 400.50,202.00 402.15,203.54 403.80,207.60 405.50,207.88 407.20,210.90 409.40,202.00 411.05,203.72 412.70,206.50 414.35,207.71 416.00,207.60 418.20,212.00 420.40,209.80 422.70,216.40 424.35,218.35 426.00,218.60 427.65,223.09 429.30,225.30 430.95,229.35 432.60,229.70 434.25,233.07 435.90,233.00 437.55,234.22 439.20,234.10 440.90,236.01 442.60,235.20 444.25,235.34 445.90,234.10 447.55,230.82 449.20,228.60 450.85,232.77 452.50,235.20 454.15,233.66 455.80,231.90 457.50,232.29 459.20,233.00 460.85,235.61 462.50,234.10 464.15,237.13 465.80,238.50 467.27,239.20 468.73,240.74 470.20,241.90 471.67,243.55 473.13,240.17 474.60,239.60 476.10,241.53 477.60,242.55 479.10,243.00 480.57,243.94 482.03,244.38 483.50,244.10 484.97,244.77 486.43,245.89 487.90,247.40 489.37,247.29 490.83,247.09 492.30,247.40 493.80,248.64 495.30,249.75 496.80,248.50 498.27,248.39 499.73,250.58 501.20,250.70 502.67,249.76 504.13,250.05 505.60,250.70" fill="none" stroke="#e01414" stroke-width="1.40" stroke-linejoin="round"/>
<circle cx="297.50" cy="255.00" r="1.85" fill="#e01414"/>
<circle cx="299.00" cy="254.00" r="1.85" fill="#e01414"/>
<circle cx="300.70" cy="252.40" r="1.85" fill="#e01414"/>
<circle cx="302.50" cy="256.00" r="1.85" fill="#e01414"/>
<circle cx="305.00" cy="255.00" r="1.85" fill="#e01414"/>
<circle cx="307.00" cy="257.00" r="1.85" fill="#e01414"/>
<circle cx="309.00" cy="255.00" r="1.85" fill="#e01414"/>
<circle cx="311.00" cy="257.00" r="1.85" fill="#e01414"/>
<circle cx="313.00" cy="255.50" r="1.85" fill="#e01414"/>
<circle cx="315.00" cy="256.50" r="1.85" fill="#e01414"/>
<circle cx="317.00" cy="254.00" r="1.85" fill="#e01414"/>
<circle cx="319.00" cy="252.00" r="1.85" fill="#e01414"/>
<circle cx="321.00" cy="250.50" r="1.85" fill="#e01414"/>
<circle cx="322.50" cy="245.30" r="1.85" fill="#e01414"/>
<circle cx="324.00" cy="243.00" r="1.85" fill="#e01414"/>
<circle cx="325.80" cy="236.00" r="1.85" fill="#e01414"/>
<circle cx="327.50" cy="229.40" r="1.85" fill="#e01414"/>
<circle cx="329.50" cy="221.30" r="1.85" fill="#e01414"/>
<circle cx="331.00" cy="215.43" r="1.85" fill="#e01414"/>
<circle cx="332.50" cy="209.10" r="1.85" fill="#e01414"/>
<circle cx="334.05" cy="201.72" r="1.85" fill="#e01414"/>
<circle cx="335.60" cy="194.90" r="1.85" fill="#e01414"/>
<circle cx="337.10" cy="185.27" r="1.85" fill="#e01414"/>
<circle cx="338.60" cy="176.60" r="1.85" fill="#e01414"/>
<circle cx="340.15" cy="168.42" r="1.85" fill="#e01414"/>
<circle cx="341.70" cy="158.30" r="1.85" fill="#e01414"/>
<circle cx="343.70" cy="147.10" r="1.85" fill="#e01414"/>
<circle cx="345.50" cy="143.00" r="1.85" fill="#e01414"/>
<circle cx="347.10" cy="140.00" r="1.85" fill="#e01414"/>
<circle cx="349.00" cy="130.40" r="1.85" fill="#e01414"/>
<circle cx="351.00" cy="125.60" r="1.85" fill="#e01414"/>
<circle cx="352.90" cy="130.40" r="1.85" fill="#e01414"/>
<circle cx="354.80" cy="124.60" r="1.85" fill="#e01414"/>
<circle cx="356.70" cy="132.30" r="1.85" fill="#e01414"/>
<circle cx="358.70" cy="135.20" r="1.85" fill="#e01414"/>
<circle cx="360.60" cy="132.30" r="1.85" fill="#e01414"/>
<circle cx="362.90" cy="130.80" r="1.85" fill="#e01414"/>
<circle cx="365.40" cy="134.20" r="1.85" fill="#e01414"/>
<circle cx="366.95" cy="135.57" r="1.85" fill="#e01414"/>
<circle cx="368.50" cy="136.80" r="1.85" fill="#e01414"/>
<circle cx="369.90" cy="135.63" r="1.85" fill="#e01414"/>
<circle cx="371.30" cy="135.00" r="1.85" fill="#e01414"/>
<circle cx="372.85" cy="139.95" r="1.85" fill="#e01414"/>
<circle cx="374.40" cy="141.30" r="1.85" fill="#e01414"/>
<circle cx="376.30" cy="147.10" r="1.85" fill="#e01414"/>
<circle cx="378.30" cy="153.80" r="1.85" fill="#e01414"/>
<circle cx="380.20" cy="158.70" r="1.85" fill="#e01414"/>
<circle cx="382.10" cy="167.30" r="1.85" fill="#e01414"/>
<circle cx="384.00" cy="172.10" r="1.85" fill="#e01414"/>
<circle cx="386.00" cy="178.80" r="1.85" fill="#e01414"/>
<circle cx="387.90" cy="186.50" r="1.85" fill="#e01414"/>
<circle cx="389.50" cy="190.80" r="1.85" fill="#e01414"/>
<circle cx="390.80" cy="192.30" r="1.85" fill="#e01414"/>
<circle cx="392.50" cy="193.90" r="1.85" fill="#e01414"/>
<circle cx="393.70" cy="196.20" r="1.85" fill="#e01414"/>
<circle cx="395.00" cy="196.50" r="1.85" fill="#e01414"/>
<circle cx="397.20" cy="204.20" r="1.85" fill="#e01414"/>
<circle cx="398.85" cy="202.61" r="1.85" fill="#e01414"/>
<circle cx="400.50" cy="202.00" r="1.85" fill="#e01414"/>
<circle cx="402.15" cy="203.54" r="1.85" fill="#e01414"/>
<circle cx="403.80" cy="207.60" r="1.85" fill="#e01414"/>
<circle cx="405.50" cy="207.88" r="1.85" fill="#e01414"/>
<circle cx="407.20" cy="210.90" r="1.85" fill="#e01414"/>
<circle cx="409.40" cy="202.00" r="1.85" fill="#e01414"/>
<circle cx="411.05" cy="203.72" r="1.85" fill="#e01414"/>
<circle cx="412.70" cy="206.50" r="1.85" fill="#e01414"/>
<circle cx="414.35" cy="207.71" r="1.85" fill="#e01414"/>
<circle cx="416.00" cy="207.60" r="1.85" fill="#e01414"/>
<circle cx="418.20" cy="212.00" r="1.85" fill="#e01414"/>
<circle cx="420.40" cy="209.80" r="1.85" fill="#e01414"/>
<circle cx="422.70" cy="216.40" r="1.85" fill="#e01414"/>
<circle cx="424.35" cy="218.35" r="1.85" fill="#e01414"/>
<circle cx="426.00" cy="218.60" r="1.85" fill="#e01414"/>
<circle cx="427.65" cy="223.09" r="1.85" fill="#e01414"/>
<circle cx="429.30" cy="225.30" r="1.85" fill="#e01414"/>
<circle cx="430.95" cy="229.35" r="1.85" fill="#e01414"/>
<circle cx="432.60" cy="229.70" r="1.85" fill="#e01414"/>
<circle cx="434.25" cy="233.07" r="1.85" fill="#e01414"/>
<circle cx="435.90" cy="233.00" r="1.85" fill="#e01414"/>
<circle cx="437.55" cy="234.22" r="1.85" fill="#e01414"/>
<circle cx="439.20" cy="234.10" r="1.85" fill="#e01414"/>
<circle cx="440.90" cy="236.01" r="1.85" fill="#e01414"/>
<circle cx="442.60" cy="235.20" r="1.85" fill="#e01414"/>
<circle cx="444.25" cy="235.34" r="1.85" fill="#e01414"/>
<circle cx="445.90" cy="234.10" r="1.85" fill="#e01414"/>
<circle cx="447.55" cy="230.82" r="1.85" fill="#e01414"/>
<circle cx="449.20" cy="228.60" r="1.85" fill="#e01414"/>
<circle cx="450.85" cy="232.77" r="1.85" fill="#e01414"/>
<circle cx="452.50" cy="235.20" r="1.85" fill="#e01414"/>
<circle cx="454.15" cy="233.66" r="1.85" fill="#e01414"/>
<circle cx="455.80" cy="231.90" r="1.85" fill="#e01414"/>
<circle cx="457.50" cy="232.29" r="1.85" fill="#e01414"/>
<circle cx="459.20" cy="233.00" r="1.85" fill="#e01414"/>
<circle cx="460.85" cy="235.61" r="1.85" fill="#e01414"/>
<circle cx="462.50" cy="234.10" r="1.85" fill="#e01414"/>
<circle cx="464.15" cy="237.13" r="1.85" fill="#e01414"/>
<circle cx="465.80" cy="238.50" r="1.85" fill="#e01414"/>
<circle cx="467.27" cy="239.20" r="1.85" fill="#e01414"/>
<circle cx="468.73" cy="240.74" r="1.85" fill="#e01414"/>
<circle cx="470.20" cy="241.90" r="1.85" fill="#e01414"/>
<circle cx="471.67" cy="243.55" r="1.85" fill="#e01414"/>
<circle cx="473.13" cy="240.17" r="1.85" fill="#e01414"/>
<circle cx="474.60" cy="239.60" r="1.85" fill="#e01414"/>
<circle cx="476.10" cy="241.53" r="1.85" fill="#e01414"/>
<circle cx="477.60" cy="242.55" r="1.85" fill="#e01414"/>
<circle cx="479.10" cy="243.00" r="1.85" fill="#e01414"/>
<circle cx="480.57" cy="243.94" r="1.85" fill="#e01414"/>
<circle cx="482.03" cy="244.38" r="1.85" fill="#e01414"/>
<circle cx="483.50" cy="244.10" r="1.85" fill="#e01414"/>
<circle cx="484.97" cy="244.77" r="1.85" fill="#e01414"/>
<circle cx="486.43" cy="245.89" r="1.85" fill="#e01414"/>
<circle cx="487.90" cy="247.40" r="1.85" fill="#e01414"/>
<circle cx="489.37" cy="247.29" r="1.85" fill="#e01414"/>
<circle cx="490.83" cy="247.09" r="1.85" fill="#e01414"/>
<circle cx="492.30" cy="247.40" r="1.85" fill="#e01414"/>
<circle cx="493.80" cy="248.64" r="1.85" fill="#e01414"/>
<circle cx="495.30" cy="249.75" r="1.85" fill="#e01414"/>
<circle cx="496.80" cy="248.50" r="1.85" fill="#e01414"/>
<circle cx="498.27" cy="248.39" r="1.85" fill="#e01414"/>
<circle cx="499.73" cy="250.58" r="1.85" fill="#e01414"/>
<circle cx="501.20" cy="250.70" r="1.85" fill="#e01414"/>
<circle cx="502.67" cy="249.76" r="1.85" fill="#e01414"/>
<circle cx="504.13" cy="250.05" r="1.85" fill="#e01414"/>
<circle cx="505.60" cy="250.70" r="1.85" fill="#e01414"/>
<polyline points="297.50,258.00 299.38,257.91 301.25,258.40 303.12,257.22 305.00,258.00 306.75,256.09 308.50,258.03 310.25,258.29 312.00,257.50 314.15,257.63 316.30,256.90 318.50,255.50 320.40,253.80 321.90,252.37 323.40,249.80 324.95,244.65 326.50,239.60 328.00,233.97 329.50,229.40 331.05,222.62 332.60,217.20 334.10,208.96 335.60,201.00 337.15,193.06 338.70,185.70 340.20,176.07 341.70,164.40 344.20,144.80 346.20,128.50 347.60,124.37 349.00,118.80 351.00,116.90 352.90,116.00 354.80,114.00 356.70,106.30 358.70,111.20 360.30,115.20 362.90,122.10 364.35,122.38 365.80,125.00 367.25,129.15 368.70,131.70 370.60,137.50 372.50,143.30 374.40,151.00 376.30,157.70 377.30,164.00 379.20,167.30 380.30,172.00 382.10,176.90 383.40,185.00 385.00,186.00 386.40,193.90 387.95,195.47 389.50,196.90 391.00,200.17 392.50,201.00 394.05,205.66 395.60,207.10 397.60,210.10 398.30,214.20 399.95,216.51 401.60,217.50 403.30,217.46 405.00,220.80 406.65,221.01 408.30,219.70 409.95,220.48 411.60,224.20 413.25,225.34 414.90,223.10 416.55,224.74 418.20,227.50 419.85,227.97 421.50,228.60 423.20,231.65 424.90,230.80 426.55,230.23 428.20,233.00 429.85,233.69 431.50,234.10 433.15,234.23 434.80,236.30 436.27,236.25 437.73,236.34 439.20,237.40 440.70,238.93 442.20,238.67 443.70,239.60 445.17,240.46 446.63,241.16 448.10,240.80 449.57,237.68 451.03,239.33 452.50,236.30 453.97,237.26 455.43,236.93 456.90,239.60 458.40,239.81 459.90,242.13 461.40,241.90 462.87,243.76 464.33,242.78 465.80,244.10 467.45,247.62 469.10,250.70 470.75,247.21 472.40,243.00 473.90,245.26 475.40,245.18 476.90,246.30 478.37,247.78 479.83,246.24 481.30,247.40 482.77,247.15 484.23,248.92 485.70,248.50 487.17,248.98 488.63,247.83 490.10,247.40 491.60,248.86 493.10,249.19 494.60,249.60 496.07,250.13 497.53,250.17 499.00,248.50 500.47,249.88 501.93,250.92 503.40,250.70 505.20,250.56 507.00,251.00" fill="none" stroke="#1ee01e" stroke-width="1.40" stroke-linejoin="round"/>
<path d="M297.50 255.82L299.61 259.52L295.39 259.52Z" fill="#1ee01e"/>
<path d="M299.38 255.74L301.48 259.44L297.27 259.44Z" fill="#1ee01e"/>
<path d="M301.25 256.22L303.36 259.92L299.14 259.92Z" fill="#1ee01e"/>
<path d="M303.12 255.04L305.23 258.74L301.02 258.74Z" fill="#1ee01e"/>
<path d="M305.00 255.82L307.11 259.52L302.89 259.52Z" fill="#1ee01e"/>
<path d="M306.75 253.92L308.86 257.62L304.64 257.62Z" fill="#1ee01e"/>
<path d="M308.50 255.86L310.61 259.56L306.39 259.56Z" fill="#1ee01e"/>
<path d="M310.25 256.11L312.36 259.82L308.14 259.82Z" fill="#1ee01e"/>
<path d="M312.00 255.32L314.11 259.02L309.89 259.02Z" fill="#1ee01e"/>
<path d="M314.15 255.45L316.26 259.15L312.04 259.15Z" fill="#1ee01e"/>
<path d="M316.30 254.72L318.41 258.42L314.19 258.42Z" fill="#1ee01e"/>
<path d="M318.50 253.32L320.61 257.02L316.39 257.02Z" fill="#1ee01e"/>
<path d="M320.40 251.62L322.51 255.32L318.29 255.32Z" fill="#1ee01e"/>
<path d="M321.90 250.19L324.01 253.89L319.79 253.89Z" fill="#1ee01e"/>
<path d="M323.40 247.62L325.51 251.32L321.29 251.32Z" fill="#1ee01e"/>
<path d="M324.95 242.47L327.06 246.17L322.84 246.17Z" fill="#1ee01e"/>
<path d="M326.50 237.42L328.61 241.12L324.39 241.12Z" fill="#1ee01e"/>
<path d="M328.00 231.80L330.11 235.50L325.89 235.50Z" fill="#1ee01e"/>
<path d="M329.50 227.22L331.61 230.92L327.39 230.92Z" fill="#1ee01e"/>
<path d="M331.05 220.44L333.16 224.14L328.94 224.14Z" fill="#1ee01e"/>
<path d="M332.60 215.02L334.71 218.72L330.49 218.72Z" fill="#1ee01e"/>
<path d="M334.10 206.79L336.21 210.49L331.99 210.49Z" fill="#1ee01e"/>
<path d="M335.60 198.82L337.71 202.52L333.49 202.52Z" fill="#1ee01e"/>
<path d="M337.15 190.88L339.26 194.58L335.04 194.58Z" fill="#1ee01e"/>
<path d="M338.70 183.52L340.81 187.22L336.59 187.22Z" fill="#1ee01e"/>
<path d="M340.20 173.89L342.31 177.60L338.09 177.60Z" fill="#1ee01e"/>
<path d="M341.70 162.22L343.81 165.92L339.59 165.92Z" fill="#1ee01e"/>
<path d="M344.20 142.62L346.31 146.32L342.09 146.32Z" fill="#1ee01e"/>
<path d="M346.20 126.32L348.31 130.02L344.09 130.02Z" fill="#1ee01e"/>
<path d="M347.60 122.19L349.71 125.89L345.49 125.89Z" fill="#1ee01e"/>
<path d="M349.00 116.62L351.11 120.32L346.89 120.32Z" fill="#1ee01e"/>
<path d="M351.00 114.72L353.11 118.42L348.89 118.42Z" fill="#1ee01e"/>
<path d="M352.90 113.82L355.01 117.52L350.79 117.52Z" fill="#1ee01e"/>
<path d="M354.80 111.82L356.91 115.52L352.69 115.52Z" fill="#1ee01e"/>
<path d="M356.70 104.12L358.81 107.82L354.59 107.82Z" fill="#1ee01e"/>
<path d="M358.70 109.02L360.81 112.72L356.59 112.72Z" fill="#1ee01e"/>
<path d="M360.30 113.02L362.41 116.72L358.19 116.72Z" fill="#1ee01e"/>
<path d="M362.90 119.92L365.01 123.62L360.79 123.62Z" fill="#1ee01e"/>
<path d="M364.35 120.21L366.46 123.91L362.24 123.91Z" fill="#1ee01e"/>
<path d="M365.80 122.82L367.91 126.52L363.69 126.52Z" fill="#1ee01e"/>
<path d="M367.25 126.97L369.36 130.67L365.14 130.67Z" fill="#1ee01e"/>
<path d="M368.70 129.52L370.81 133.22L366.59 133.22Z" fill="#1ee01e"/>
<path d="M370.60 135.32L372.71 139.02L368.49 139.02Z" fill="#1ee01e"/>
<path d="M372.50 141.12L374.61 144.82L370.39 144.82Z" fill="#1ee01e"/>
<path d="M374.40 148.82L376.51 152.52L372.29 152.52Z" fill="#1ee01e"/>
<path d="M376.30 155.52L378.41 159.22L374.19 159.22Z" fill="#1ee01e"/>
<path d="M377.30 161.82L379.41 165.52L375.19 165.52Z" fill="#1ee01e"/>
<path d="M379.20 165.12L381.31 168.82L377.09 168.82Z" fill="#1ee01e"/>
<path d="M380.30 169.82L382.41 173.52L378.19 173.52Z" fill="#1ee01e"/>
<path d="M382.10 174.72L384.21 178.42L379.99 178.42Z" fill="#1ee01e"/>
<path d="M383.40 182.82L385.51 186.52L381.29 186.52Z" fill="#1ee01e"/>
<path d="M385.00 183.82L387.11 187.52L382.89 187.52Z" fill="#1ee01e"/>
<path d="M386.40 191.72L388.51 195.42L384.29 195.42Z" fill="#1ee01e"/>
<path d="M387.95 193.29L390.06 197.00L385.84 197.00Z" fill="#1ee01e"/>
<path d="M389.50 194.72L391.61 198.42L387.39 198.42Z" fill="#1ee01e"/>
<path d="M391.00 198.00L393.11 201.70L388.89 201.70Z" fill="#1ee01e"/>
<path d="M392.50 198.82L394.61 202.52L390.39 202.52Z" fill="#1ee01e"/>
<path d="M394.05 203.49L396.16 207.19L391.94 207.19Z" fill="#1ee01e"/>
<path d="M395.60 204.92L397.71 208.62L393.49 208.62Z" fill="#1ee01e"/>
<path d="M397.60 207.92L399.71 211.62L395.49 211.62Z" fill="#1ee01e"/>
<path d="M398.30 212.02L400.41 215.72L396.19 215.72Z" fill="#1ee01e"/>
<path d="M399.95 214.34L402.06 218.04L397.84 218.04Z" fill="#1ee01e"/>
<path d="M401.60 215.32L403.71 219.02L399.49 219.02Z" fill="#1ee01e"/>
<path d="M403.30 215.29L405.41 218.99L401.19 218.99Z" fill="#1ee01e"/>
<path d="M405.00 218.62L407.11 222.32L402.89 222.32Z" fill="#1ee01e"/>
<path d="M406.65 218.83L408.76 222.54L404.54 222.54Z" fill="#1ee01e"/>
<path d="M408.30 217.52L410.41 221.22L406.19 221.22Z" fill="#1ee01e"/>
<path d="M409.95 218.31L412.06 222.01L407.84 222.01Z" fill="#1ee01e"/>
<path d="M411.60 222.02L413.71 225.72L409.49 225.72Z" fill="#1ee01e"/>
<path d="M413.25 223.16L415.36 226.86L411.14 226.86Z" fill="#1ee01e"/>
<path d="M414.90 220.92L417.01 224.62L412.79 224.62Z" fill="#1ee01e"/>
<path d="M416.55 222.57L418.66 226.27L414.44 226.27Z" fill="#1ee01e"/>
<path d="M418.20 225.32L420.31 229.02L416.09 229.02Z" fill="#1ee01e"/>
<path d="M419.85 225.79L421.96 229.49L417.74 229.49Z" fill="#1ee01e"/>
<path d="M421.50 226.42L423.61 230.12L419.39 230.12Z" fill="#1ee01e"/>
<path d="M423.20 229.47L425.31 233.17L421.09 233.17Z" fill="#1ee01e"/>
<path d="M424.90 228.62L427.01 232.32L422.79 232.32Z" fill="#1ee01e"/>
<path d="M426.55 228.05L428.66 231.75L424.44 231.75Z" fill="#1ee01e"/>
<path d="M428.20 230.82L430.31 234.52L426.09 234.52Z" fill="#1ee01e"/>
<path d="M429.85 231.51L431.96 235.21L427.74 235.21Z" fill="#1ee01e"/>
<path d="M431.50 231.92L433.61 235.62L429.39 235.62Z" fill="#1ee01e"/>
<path d="M433.15 232.05L435.26 235.75L431.04 235.75Z" fill="#1ee01e"/>
<path d="M434.80 234.12L436.91 237.82L432.69 237.82Z" fill="#1ee01e"/>
<path d="M436.27 234.07L438.37 237.78L434.16 237.78Z" fill="#1ee01e"/>
<path d="M437.73 234.16L439.84 237.86L435.63 237.86Z" fill="#1ee01e"/>
<path d="M439.20 235.22L441.31 238.92L437.09 238.92Z" fill="#1ee01e"/>
<path d="M440.70 236.75L442.81 240.46L438.59 240.46Z" fill="#1ee01e"/>
<path d="M442.20 236.49L444.31 240.20L440.09 240.20Z" fill="#1ee01e"/>
<path d="M443.70 237.42L445.81 241.12L441.59 241.12Z" fill="#1ee01e"/>
<path d="M445.17 238.28L447.27 241.98L443.06 241.98Z" fill="#1ee01e"/>
<path d="M446.63 238.98L448.74 242.68L444.53 242.68Z" fill="#1ee01e"/>
<path d="M448.10 238.62L450.21 242.32L445.99 242.32Z" fill="#1ee01e"/>
<path d="M449.57 235.50L451.67 239.20L447.46 239.20Z" fill="#1ee01e"/>
<path d="M451.03 237.15L453.14 240.85L448.93 240.85Z" fill="#1ee01e"/>
<path d="M452.50 234.12L454.61 237.82L450.39 237.82Z" fill="#1ee01e"/>
<path d="M453.97 235.08L456.07 238.79L451.86 238.79Z" fill="#1ee01e"/>
<path d="M455.43 234.76L457.54 238.46L453.33 238.46Z" fill="#1ee01e"/>
<path d="M456.90 237.42L459.01 241.12L454.79 241.12Z" fill="#1ee01e"/>
<path d="M458.40 237.63L460.51 241.34L456.29 241.34Z" fill="#1ee01e"/>
<path d="M459.90 239.95L462.01 243.65L457.79 243.65Z" fill="#1ee01e"/>
<path d="M461.40 239.72L463.51 243.42L459.29 243.42Z" fill="#1ee01e"/>
<path d="M462.87 241.58L464.97 245.28L460.76 245.28Z" fill="#1ee01e"/>
<path d="M464.33 240.60L466.44 244.31L462.23 244.31Z" fill="#1ee01e"/>
<path d="M465.80 241.92L467.91 245.62L463.69 245.62Z" fill="#1ee01e"/>
<path d="M467.45 245.44L469.56 249.14L465.34 249.14Z" fill="#1ee01e"/>
<path d="M469.10 248.52L471.21 252.22L466.99 252.22Z" fill="#1ee01e"/>
<path d="M470.75 245.03L472.86 248.73L468.64 248.73Z" fill="#1ee01e"/>
<path d="M472.40 240.82L474.51 244.52L470.29 244.52Z" fill="#1ee01e"/>
<path d="M473.90 243.08L476.01 246.79L471.79 246.79Z" fill="#1ee01e"/>
<path d="M475.40 243.00L477.51 246.70L473.29 246.70Z" fill="#1ee01e"/>
<path d="M476.90 244.12L479.01 247.82L474.79 247.82Z" fill="#1ee01e"/>
<path d="M478.37 245.60L480.47 249.30L476.26 249.30Z" fill="#1ee01e"/>
<path d="M479.83 244.06L481.94 247.77L477.73 247.77Z" fill="#1ee01e"/>
<path d="M481.30 245.22L483.41 248.92L479.19 248.92Z" fill="#1ee01e"/>
<path d="M482.77 244.97L484.87 248.67L480.66 248.67Z" fill="#1ee01e"/>
<path d="M484.23 246.75L486.34 250.45L482.13 250.45Z" fill="#1ee01e"/>
<path d="M485.70 246.32L487.81 250.02L483.59 250.02Z" fill="#1ee01e"/>
<path d="M487.17 246.81L489.27 250.51L485.06 250.51Z" fill="#1ee01e"/>
<path d="M488.63 245.66L490.74 249.36L486.53 249.36Z" fill="#1ee01e"/>
<path d="M490.10 245.22L492.21 248.92L487.99 248.92Z" fill="#1ee01e"/>
<path d="M491.60 246.69L493.71 250.39L489.49 250.39Z" fill="#1ee01e"/>
<path d="M493.10 247.02L495.21 250.72L490.99 250.72Z" fill="#1ee01e"/>
<path d="M494.60 247.42L496.71 251.12L492.49 251.12Z" fill="#1ee01e"/>
<path d="M496.07 247.95L498.17 251.66L493.96 251.66Z" fill="#1ee01e"/>
<path d="M497.53 247.99L499.64 251.69L495.43 251.69Z" fill="#1ee01e"/>
<path d="M499.00 246.32L501.11 250.02L496.89 250.02Z" fill="#1ee01e"/>
<path d="M500.47 247.70L502.57 251.40L498.36 251.40Z" fill="#1ee01e"/>
<path d="M501.93 248.74L504.04 252.44L499.83 252.44Z" fill="#1ee01e"/>
<path d="M503.40 248.52L505.51 252.22L501.29 252.22Z" fill="#1ee01e"/>
<path d="M505.20 248.39L507.31 252.09L503.09 252.09Z" fill="#1ee01e"/>
<path d="M507.00 248.82L509.11 252.52L504.89 252.52Z" fill="#1ee01e"/>
<polyline points="297.50,257.23 299.25,256.03 301.00,255.18 302.75,255.30 304.50,255.75 306.25,257.14 308.00,254.41 309.75,252.83 311.50,253.82 313.25,254.41 315.00,251.85 316.75,253.29 318.50,251.58 320.25,249.29 322.00,246.15 323.75,241.32 325.50,235.29 327.25,229.13 329.00,219.02 330.75,208.04 332.50,194.78 334.25,183.73 336.00,172.90 337.75,153.70 339.50,137.47 341.25,119.34 343.00,105.19 344.75,87.22 346.50,75.59 348.25,66.25 350.00,61.23 351.75,58.50 353.50,59.25 355.25,65.61 357.00,74.03 358.75,81.44 360.50,96.01 362.25,112.75 364.00,125.01 365.75,135.51 367.50,144.95 369.25,154.58 371.00,164.32 372.75,171.28 374.50,179.89 376.25,188.49 378.00,193.58 379.75,196.27 381.50,201.88 383.25,208.28 385.00,211.55 386.75,214.59 388.50,217.28 390.25,218.76 392.00,219.54 393.75,220.16 395.50,221.08 397.25,226.88 399.00,225.99 400.75,227.07 402.50,227.15 404.25,228.42 406.00,230.38 407.75,233.95 409.50,235.57 411.25,237.24 413.00,239.78 414.75,239.58 416.50,242.71 418.25,244.27 420.00,245.07 421.75,245.31 423.50,245.29 425.25,243.00 427.00,242.89 428.75,242.23 430.50,243.75 432.25,246.40 434.00,247.51 435.75,248.21 437.50,245.64 439.25,243.14 441.00,240.48 442.75,240.90 444.50,241.80 446.25,243.58 448.00,244.81 449.75,244.95 451.50,244.46 453.25,243.66 455.00,245.21 456.75,246.76 458.50,243.39 460.25,245.11 462.00,248.00 463.75,248.16 465.50,247.64 467.25,247.45 469.00,246.93 470.75,246.79 472.50,249.76 474.25,253.19 476.00,252.99 477.75,251.88 479.50,251.74 481.25,250.69 483.00,250.08 484.75,251.02 486.50,253.14 488.25,252.63 490.00,252.28 491.75,253.80 493.50,253.90 495.25,255.16 497.00,255.73 498.75,253.94 500.50,253.33 502.25,251.68 504.00,251.75 505.75,251.43 507.50,253.02" fill="none" stroke="#1818cc" stroke-width="1.50" stroke-linejoin="round"/>
<path d="M297.50 259.41L299.61 255.71L295.39 255.71Z" fill="#1818cc"/>
<path d="M299.25 258.21L301.36 254.51L297.14 254.51Z" fill="#1818cc"/>
<path d="M301.00 257.36L303.11 253.65L298.89 253.65Z" fill="#1818cc"/>
<path d="M302.75 257.48L304.86 253.78L300.64 253.78Z" fill="#1818cc"/>
<path d="M304.50 257.93L306.61 254.23L302.39 254.23Z" fill="#1818cc"/>
<path d="M306.25 259.32L308.36 255.62L304.14 255.62Z" fill="#1818cc"/>
<path d="M308.00 256.59L310.11 252.89L305.89 252.89Z" fill="#1818cc"/>
<path d="M309.75 255.01L311.86 251.30L307.64 251.30Z" fill="#1818cc"/>
<path d="M311.50 256.00L313.61 252.30L309.39 252.30Z" fill="#1818cc"/>
<path d="M313.25 256.59L315.36 252.89L311.14 252.89Z" fill="#1818cc"/>
<path d="M315.00 254.02L317.11 250.32L312.89 250.32Z" fill="#1818cc"/>
<path d="M316.75 255.47L318.86 251.77L314.64 251.77Z" fill="#1818cc"/>
<path d="M318.50 253.76L320.61 250.05L316.39 250.05Z" fill="#1818cc"/>
<path d="M320.25 251.47L322.36 247.76L318.14 247.76Z" fill="#1818cc"/>
<path d="M322.00 248.33L324.11 244.62L319.89 244.62Z" fill="#1818cc"/>
<path d="M323.75 243.49L325.86 239.79L321.64 239.79Z" fill="#1818cc"/>
<path d="M325.50 237.46L327.61 233.76L323.39 233.76Z" fill="#1818cc"/>
<path d="M327.25 231.31L329.36 227.61L325.14 227.61Z" fill="#1818cc"/>
<path d="M329.00 221.20L331.11 217.49L326.89 217.49Z" fill="#1818cc"/>
<path d="M330.75 210.22L332.86 206.51L328.64 206.51Z" fill="#1818cc"/>
<path d="M332.50 196.96L334.61 193.26L330.39 193.26Z" fill="#1818cc"/>
<path d="M334.25 185.91L336.36 182.20L332.14 182.20Z" fill="#1818cc"/>
<path d="M336.00 175.08L338.11 171.38L333.89 171.38Z" fill="#1818cc"/>
<path d="M337.75 155.88L339.86 152.18L335.64 152.18Z" fill="#1818cc"/>
<path d="M339.50 139.65L341.61 135.95L337.39 135.95Z" fill="#1818cc"/>
<path d="M341.25 121.52L343.36 117.82L339.14 117.82Z" fill="#1818cc"/>
<path d="M343.00 107.37L345.11 103.67L340.89 103.67Z" fill="#1818cc"/>
<path d="M344.75 89.39L346.86 85.69L342.64 85.69Z" fill="#1818cc"/>
<path d="M346.50 77.77L348.61 74.06L344.39 74.06Z" fill="#1818cc"/>
<path d="M348.25 68.42L350.36 64.72L346.14 64.72Z" fill="#1818cc"/>
<path d="M350.00 63.41L352.11 59.71L347.89 59.71Z" fill="#1818cc"/>
<path d="M351.75 60.68L353.86 56.97L349.64 56.97Z" fill="#1818cc"/>
<path d="M353.50 61.43L355.61 57.72L351.39 57.72Z" fill="#1818cc"/>
<path d="M355.25 67.79L357.36 64.08L353.14 64.08Z" fill="#1818cc"/>
<path d="M357.00 76.21L359.11 72.51L354.89 72.51Z" fill="#1818cc"/>
<path d="M358.75 83.62L360.86 79.91L356.64 79.91Z" fill="#1818cc"/>
<path d="M360.50 98.19L362.61 94.49L358.39 94.49Z" fill="#1818cc"/>
<path d="M362.25 114.92L364.36 111.22L360.14 111.22Z" fill="#1818cc"/>
<path d="M364.00 127.18L366.11 123.48L361.89 123.48Z" fill="#1818cc"/>
<path d="M365.75 137.68L367.86 133.98L363.64 133.98Z" fill="#1818cc"/>
<path d="M367.50 147.13L369.61 143.43L365.39 143.43Z" fill="#1818cc"/>
<path d="M369.25 156.76L371.36 153.05L367.14 153.05Z" fill="#1818cc"/>
<path d="M371.00 166.49L373.11 162.79L368.89 162.79Z" fill="#1818cc"/>
<path d="M372.75 173.46L374.86 169.76L370.64 169.76Z" fill="#1818cc"/>
<path d="M374.50 182.07L376.61 178.37L372.39 178.37Z" fill="#1818cc"/>
<path d="M376.25 190.67L378.36 186.97L374.14 186.97Z" fill="#1818cc"/>
<path d="M378.00 195.76L380.11 192.06L375.89 192.06Z" fill="#1818cc"/>
<path d="M379.75 198.45L381.86 194.75L377.64 194.75Z" fill="#1818cc"/>
<path d="M381.50 204.06L383.61 200.35L379.39 200.35Z" fill="#1818cc"/>
<path d="M383.25 210.46L385.36 206.76L381.14 206.76Z" fill="#1818cc"/>
<path d="M385.00 213.73L387.11 210.03L382.89 210.03Z" fill="#1818cc"/>
<path d="M386.75 216.77L388.86 213.07L384.64 213.07Z" fill="#1818cc"/>
<path d="M388.50 219.46L390.61 215.76L386.39 215.76Z" fill="#1818cc"/>
<path d="M390.25 220.93L392.36 217.23L388.14 217.23Z" fill="#1818cc"/>
<path d="M392.00 221.72L394.11 218.01L389.89 218.01Z" fill="#1818cc"/>
<path d="M393.75 222.34L395.86 218.63L391.64 218.63Z" fill="#1818cc"/>
<path d="M395.50 223.25L397.61 219.55L393.39 219.55Z" fill="#1818cc"/>
<path d="M397.25 229.06L399.36 225.36L395.14 225.36Z" fill="#1818cc"/>
<path d="M399.00 228.17L401.11 224.46L396.89 224.46Z" fill="#1818cc"/>
<path d="M400.75 229.25L402.86 225.55L398.64 225.55Z" fill="#1818cc"/>
<path d="M402.50 229.33L404.61 225.63L400.39 225.63Z" fill="#1818cc"/>
<path d="M404.25 230.60L406.36 226.89L402.14 226.89Z" fill="#1818cc"/>
<path d="M406.00 232.56L408.11 228.85L403.89 228.85Z" fill="#1818cc"/>
<path d="M407.75 236.13L409.86 232.42L405.64 232.42Z" fill="#1818cc"/>
<path d="M409.50 237.74L411.61 234.04L407.39 234.04Z" fill="#1818cc"/>
<path d="M411.25 239.41L413.36 235.71L409.14 235.71Z" fill="#1818cc"/>
<path d="M413.00 241.96L415.11 238.26L410.89 238.26Z" fill="#1818cc"/>
<path d="M414.75 241.76L416.86 238.06L412.64 238.06Z" fill="#1818cc"/>
<path d="M416.50 244.88L418.61 241.18L414.39 241.18Z" fill="#1818cc"/>
<path d="M418.25 246.45L420.36 242.74L416.14 242.74Z" fill="#1818cc"/>
<path d="M420.00 247.25L422.11 243.55L417.89 243.55Z" fill="#1818cc"/>
<path d="M421.75 247.49L423.86 243.78L419.64 243.78Z" fill="#1818cc"/>
<path d="M423.50 247.47L425.61 243.76L421.39 243.76Z" fill="#1818cc"/>
<path d="M425.25 245.17L427.36 241.47L423.14 241.47Z" fill="#1818cc"/>
<path d="M427.00 245.07L429.11 241.37L424.89 241.37Z" fill="#1818cc"/>
<path d="M428.75 244.41L430.86 240.71L426.64 240.71Z" fill="#1818cc"/>
<path d="M430.50 245.93L432.61 242.23L428.39 242.23Z" fill="#1818cc"/>
<path d="M432.25 248.58L434.36 244.88L430.14 244.88Z" fill="#1818cc"/>
<path d="M434.00 249.69L436.11 245.99L431.89 245.99Z" fill="#1818cc"/>
<path d="M435.75 250.39L437.86 246.69L433.64 246.69Z" fill="#1818cc"/>
<path d="M437.50 247.82L439.61 244.11L435.39 244.11Z" fill="#1818cc"/>
<path d="M439.25 245.31L441.36 241.61L437.14 241.61Z" fill="#1818cc"/>
<path d="M441.00 242.66L443.11 238.96L438.89 238.96Z" fill="#1818cc"/>
<path d="M442.75 243.08L444.86 239.38L440.64 239.38Z" fill="#1818cc"/>
<path d="M444.50 243.98L446.61 240.28L442.39 240.28Z" fill="#1818cc"/>
<path d="M446.25 245.76L448.36 242.06L444.14 242.06Z" fill="#1818cc"/>
<path d="M448.00 246.99L450.11 243.28L445.89 243.28Z" fill="#1818cc"/>
<path d="M449.75 247.12L451.86 243.42L447.64 243.42Z" fill="#1818cc"/>
<path d="M451.50 246.64L453.61 242.93L449.39 242.93Z" fill="#1818cc"/>
<path d="M453.25 245.84L455.36 242.14L451.14 242.14Z" fill="#1818cc"/>
<path d="M455.00 247.39L457.11 243.69L452.89 243.69Z" fill="#1818cc"/>
<path d="M456.75 248.93L458.86 245.23L454.64 245.23Z" fill="#1818cc"/>
<path d="M458.50 245.57L460.61 241.87L456.39 241.87Z" fill="#1818cc"/>
<path d="M460.25 247.28L462.36 243.58L458.14 243.58Z" fill="#1818cc"/>
<path d="M462.00 250.17L464.11 246.47L459.89 246.47Z" fill="#1818cc"/>
<path d="M463.75 250.34L465.86 246.63L461.64 246.63Z" fill="#1818cc"/>
<path d="M465.50 249.81L467.61 246.11L463.39 246.11Z" fill="#1818cc"/>
<path d="M467.25 249.63L469.36 245.92L465.14 245.92Z" fill="#1818cc"/>
<path d="M469.00 249.11L471.11 245.40L466.89 245.40Z" fill="#1818cc"/>
<path d="M470.75 248.97L472.86 245.26L468.64 245.26Z" fill="#1818cc"/>
<path d="M472.50 251.94L474.61 248.23L470.39 248.23Z" fill="#1818cc"/>
<path d="M474.25 255.37L476.36 251.67L472.14 251.67Z" fill="#1818cc"/>
<path d="M476.00 255.17L478.11 251.47L473.89 251.47Z" fill="#1818cc"/>
<path d="M477.75 254.06L479.86 250.36L475.64 250.36Z" fill="#1818cc"/>
<path d="M479.50 253.92L481.61 250.22L477.39 250.22Z" fill="#1818cc"/>
<path d="M481.25 252.87L483.36 249.16L479.14 249.16Z" fill="#1818cc"/>
<path d="M483.00 252.25L485.11 248.55L480.89 248.55Z" fill="#1818cc"/>
<path d="M484.75 253.20L486.86 249.50L482.64 249.50Z" fill="#1818cc"/>
<path d="M486.50 255.32L488.61 251.62L484.39 251.62Z" fill="#1818cc"/>
<path d="M488.25 254.81L490.36 251.10L486.14 251.10Z" fill="#1818cc"/>
<path d="M490.00 254.45L492.11 250.75L487.89 250.75Z" fill="#1818cc"/>
<path d="M491.75 255.98L493.86 252.28L489.64 252.28Z" fill="#1818cc"/>
<path d="M493.50 256.08L495.61 252.37L491.39 252.37Z" fill="#1818cc"/>
<path d="M495.25 257.34L497.36 253.64L493.14 253.64Z" fill="#1818cc"/>
<path d="M497.00 257.91L499.11 254.21L494.89 254.21Z" fill="#1818cc"/>
<path d="M498.75 256.12L500.86 252.41L496.64 252.41Z" fill="#1818cc"/>
<path d="M500.50 255.50L502.61 251.80L498.39 251.80Z" fill="#1818cc"/>
<path d="M502.25 253.86L504.36 250.16L500.14 250.16Z" fill="#1818cc"/>
<path d="M504.00 253.92L506.11 250.22L501.89 250.22Z" fill="#1818cc"/>
<path d="M505.75 253.61L507.86 249.91L503.64 249.91Z" fill="#1818cc"/>
<path d="M507.50 255.20L509.61 251.50L505.39 251.50Z" fill="#1818cc"/>
</g>
<g clip-path="url(#clip_o)">
<polyline points="40.50,549.90 44.50,546.00 49.00,543.80 52.70,545.00 55.20,547.50 58.80,541.30 61.30,537.60 64.50,541.30 67.40,536.40 70.60,525.40 73.50,519.30 77.20,520.50 79.70,523.00 82.10,518.00 85.80,511.90 89.50,510.70 91.90,503.30 94.90,502.10 98.00,493.50 101.20,491.10 104.20,488.60 107.90,480.00 111.50,473.90 115.20,465.30 118.90,455.50 122.60,444.50 125.50,428.00 128.20,411.50 130.80,400.30 133.80,395.00 136.80,389.00 140.30,386.40 142.90,396.80 146.30,377.80 149.40,387.30 152.40,395.10 155.30,406.30 158.40,407.20 161.00,422.80 164.70,429.80 167.60,442.00 170.80,464.10 173.80,466.60 176.50,485.00 179.40,492.30 182.60,497.20 185.50,513.10 188.50,511.90 191.70,520.50 194.60,535.20 197.80,534.00 201.00,537.60 203.90,541.30 207.10,542.60 210.00,545.00 213.00,540.10 216.20,552.40 219.40,553.60 222.30,557.30 225.50,556.00 228.40,554.80 232.10,557.30 236.00,559.00 240.00,560.00 244.00,560.00 248.00,560.50" fill="none" stroke="#000000" stroke-width="1.20" stroke-linejoin="round"/>
<rect x="38.70" y="548.10" width="3.60" height="3.60" fill="#000000"/>
<rect x="42.70" y="544.20" width="3.60" height="3.60" fill="#000000"/>
<rect x="47.20" y="542.00" width="3.60" height="3.60" fill="#000000"/>
<rect x="50.90" y="543.20" width="3.60" height="3.60" fill="#000000"/>
<rect x="53.40" y="545.70" width="3.60" height="3.60" fill="#000000"/>
<rect x="57.00" y="539.50" width="3.60" height="3.60" fill="#000000"/>
<rect x="59.50" y="535.80" width="3.60" height="3.60" fill="#000000"/>
<rect x="62.70" y="539.50" width="3.60" height="3.60" fill="#000000"/>
<rect x="65.60" y="534.60" width="3.60" height="3.60" fill="#000000"/>
<rect x="68.80" y="523.60" width="3.60" height="3.60" fill="#000000"/>
<rect x="71.70" y="517.50" width="3.60" height="3.60" fill="#000000"/>
<rect x="75.40" y="518.70" width="3.60" height="3.60" fill="#000000"/>
<rect x="77.90" y="521.20" width="3.60" height="3.60" fill="#000000"/>
<rect x="80.30" y="516.20" width="3.60" height="3.60" fill="#000000"/>
<rect x="84.00" y="510.10" width="3.60" height="3.60" fill="#000000"/>
<rect x="87.70" y="508.90" width="3.60" height="3.60" fill="#000000"/>
<rect x="90.10" y="501.50" width="3.60" height="3.60" fill="#000000"/>
<rect x="93.10" y="500.30" width="3.60" height="3.60" fill="#000000"/>
<rect x="96.20" y="491.70" width="3.60" height="3.60" fill="#000000"/>
<rect x="99.40" y="489.30" width="3.60" height="3.60" fill="#000000"/>
<rect x="102.40" y="486.80" width="3.60" height="3.60" fill="#000000"/>
<rect x="106.10" y="478.20" width="3.60" height="3.60" fill="#000000"/>
<rect x="109.70" y="472.10" width="3.60" height="3.60" fill="#000000"/>
<rect x="113.40" y="463.50" width="3.60" height="3.60" fill="#000000"/>
<rect x="117.10" y="453.70" width="3.60" height="3.60" fill="#000000"/>
<rect x="120.80" y="442.70" width="3.60" height="3.60" fill="#000000"/>
<rect x="123.70" y="426.20" width="3.60" height="3.60" fill="#000000"/>
<rect x="126.40" y="409.70" width="3.60" height="3.60" fill="#000000"/>
<rect x="129.00" y="398.50" width="3.60" height="3.60" fill="#000000"/>
<rect x="132.00" y="393.20" width="3.60" height="3.60" fill="#000000"/>
<rect x="135.00" y="387.20" width="3.60" height="3.60" fill="#000000"/>
<rect x="138.50" y="384.60" width="3.60" height="3.60" fill="#000000"/>
<rect x="141.10" y="395.00" width="3.60" height="3.60" fill="#000000"/>
<rect x="144.50" y="376.00" width="3.60" height="3.60" fill="#000000"/>
<rect x="147.60" y="385.50" width="3.60" height="3.60" fill="#000000"/>
<rect x="150.60" y="393.30" width="3.60" height="3.60" fill="#000000"/>
<rect x="153.50" y="404.50" width="3.60" height="3.60" fill="#000000"/>
<rect x="156.60" y="405.40" width="3.60" height="3.60" fill="#000000"/>
<rect x="159.20" y="421.00" width="3.60" height="3.60" fill="#000000"/>
<rect x="162.90" y="428.00" width="3.60" height="3.60" fill="#000000"/>
<rect x="165.80" y="440.20" width="3.60" height="3.60" fill="#000000"/>
<rect x="169.00" y="462.30" width="3.60" height="3.60" fill="#000000"/>
<rect x="172.00" y="464.80" width="3.60" height="3.60" fill="#000000"/>
<rect x="174.70" y="483.20" width="3.60" height="3.60" fill="#000000"/>
<rect x="177.60" y="490.50" width="3.60" height="3.60" fill="#000000"/>
<rect x="180.80" y="495.40" width="3.60" height="3.60" fill="#000000"/>
<rect x="183.70" y="511.30" width="3.60" height="3.60" fill="#000000"/>
<rect x="186.70" y="510.10" width="3.60" height="3.60" fill="#000000"/>
<rect x="189.90" y="518.70" width="3.60" height="3.60" fill="#000000"/>
<rect x="192.80" y="533.40" width="3.60" height="3.60" fill="#000000"/>
<rect x="196.00" y="532.20" width="3.60" height="3.60" fill="#000000"/>
<rect x="199.20" y="535.80" width="3.60" height="3.60" fill="#000000"/>
<rect x="202.10" y="539.50" width="3.60" height="3.60" fill="#000000"/>
<rect x="205.30" y="540.80" width="3.60" height="3.60" fill="#000000"/>
<rect x="208.20" y="543.20" width="3.60" height="3.60" fill="#000000"/>
<rect x="211.20" y="538.30" width="3.60" height="3.60" fill="#000000"/>
<rect x="214.40" y="550.60" width="3.60" height="3.60" fill="#000000"/>
<rect x="217.60" y="551.80" width="3.60" height="3.60" fill="#000000"/>
<rect x="220.50" y="555.50" width="3.60" height="3.60" fill="#000000"/>
<rect x="223.70" y="554.20" width="3.60" height="3.60" fill="#000000"/>
<rect x="226.60" y="553.00" width="3.60" height="3.60" fill="#000000"/>
<rect x="230.30" y="555.50" width="3.60" height="3.60" fill="#000000"/>
<rect x="234.20" y="557.20" width="3.60" height="3.60" fill="#000000"/>
<rect x="238.20" y="558.20" width="3.60" height="3.60" fill="#000000"/>
<rect x="242.20" y="558.20" width="3.60" height="3.60" fill="#000000"/>
<rect x="246.20" y="558.70" width="3.60" height="3.60" fill="#000000"/>
<polyline points="40.50,552.40 44.10,547.50 49.00,541.30 52.20,547.50 55.20,540.10 58.80,530.30 62.50,513.10 65.00,514.40 67.40,516.80 69.90,513.10 73.50,519.30 76.00,509.50 79.70,510.70 83.30,508.20 85.80,502.10 89.50,508.20 91.90,502.10 94.90,504.60 98.00,496.00 101.20,497.20 104.20,493.50 106.60,483.70 109.60,492.30 112.00,473.90 115.20,477.60 118.90,465.30 121.30,451.90 125.00,442.00 128.20,440.00 130.80,428.00 134.20,426.20 136.80,421.00 140.30,422.80 142.90,415.80 145.50,425.40 148.90,429.70 152.40,440.10 155.00,451.90 158.60,459.20 162.30,467.80 164.70,476.40 168.40,486.20 170.80,498.40 173.30,510.70 176.50,524.20 179.40,530.30 182.60,537.60 185.50,540.10 188.50,543.80 191.70,537.60 194.60,547.50 197.80,545.00 201.00,546.20 203.90,548.70 207.10,547.50 210.00,549.90 213.70,556.00 217.40,557.30 220.50,556.00 223.50,554.80 226.00,553.00 228.40,551.10 232.10,556.00 235.80,556.00 239.50,554.80 243.10,557.30 246.00,559.00" fill="none" stroke="#e01414" stroke-width="1.20" stroke-linejoin="round"/>
<circle cx="40.50" cy="552.40" r="1.90" fill="#e01414"/>
<circle cx="44.10" cy="547.50" r="1.90" fill="#e01414"/>
<circle cx="49.00" cy="541.30" r="1.90" fill="#e01414"/>
<circle cx="52.20" cy="547.50" r="1.90" fill="#e01414"/>
<circle cx="55.20" cy="540.10" r="1.90" fill="#e01414"/>
<circle cx="58.80" cy="530.30" r="1.90" fill="#e01414"/>
<circle cx="62.50" cy="513.10" r="1.90" fill="#e01414"/>
<circle cx="65.00" cy="514.40" r="1.90" fill="#e01414"/>
<circle cx="67.40" cy="516.80" r="1.90" fill="#e01414"/>
<circle cx="69.90" cy="513.10" r="1.90" fill="#e01414"/>
<circle cx="73.50" cy="519.30" r="1.90" fill="#e01414"/>
<circle cx="76.00" cy="509.50" r="1.90" fill="#e01414"/>
<circle cx="79.70" cy="510.70" r="1.90" fill="#e01414"/>
<circle cx="83.30" cy="508.20" r="1.90" fill="#e01414"/>
<circle cx="85.80" cy="502.10" r="1.90" fill="#e01414"/>
<circle cx="89.50" cy="508.20" r="1.90" fill="#e01414"/>
<circle cx="91.90" cy="502.10" r="1.90" fill="#e01414"/>
<circle cx="94.90" cy="504.60" r="1.90" fill="#e01414"/>
<circle cx="98.00" cy="496.00" r="1.90" fill="#e01414"/>
<circle cx="101.20" cy="497.20" r="1.90" fill="#e01414"/>
<circle cx="104.20" cy="493.50" r="1.90" fill="#e01414"/>
<circle cx="106.60" cy="483.70" r="1.90" fill="#e01414"/>
<circle cx="109.60" cy="492.30" r="1.90" fill="#e01414"/>
<circle cx="112.00" cy="473.90" r="1.90" fill="#e01414"/>
<circle cx="115.20" cy="477.60" r="1.90" fill="#e01414"/>
<circle cx="118.90" cy="465.30" r="1.90" fill="#e01414"/>
<circle cx="121.30" cy="451.90" r="1.90" fill="#e01414"/>
<circle cx="125.00" cy="442.00" r="1.90" fill="#e01414"/>
<circle cx="128.20" cy="440.00" r="1.90" fill="#e01414"/>
<circle cx="130.80" cy="428.00" r="1.90" fill="#e01414"/>
<circle cx="134.20" cy="426.20" r="1.90" fill="#e01414"/>
<circle cx="136.80" cy="421.00" r="1.90" fill="#e01414"/>
<circle cx="140.30" cy="422.80" r="1.90" fill="#e01414"/>
<circle cx="142.90" cy="415.80" r="1.90" fill="#e01414"/>
<circle cx="145.50" cy="425.40" r="1.90" fill="#e01414"/>
<circle cx="148.90" cy="429.70" r="1.90" fill="#e01414"/>
<circle cx="152.40" cy="440.10" r="1.90" fill="#e01414"/>
<circle cx="155.00" cy="451.90" r="1.90" fill="#e01414"/>
<circle cx="158.60" cy="459.20" r="1.90" fill="#e01414"/>
<circle cx="162.30" cy="467.80" r="1.90" fill="#e01414"/>
<circle cx="164.70" cy="476.40" r="1.90" fill="#e01414"/>
<circle cx="168.40" cy="486.20" r="1.90" fill="#e01414"/>
<circle cx="170.80" cy="498.40" r="1.90" fill="#e01414"/>
<circle cx="173.30" cy="510.70" r="1.90" fill="#e01414"/>
<circle cx="176.50" cy="524.20" r="1.90" fill="#e01414"/>
<circle cx="179.40" cy="530.30" r="1.90" fill="#e01414"/>
<circle cx="182.60" cy="537.60" r="1.90" fill="#e01414"/>
<circle cx="185.50" cy="540.10" r="1.90" fill="#e01414"/>
<circle cx="188.50" cy="543.80" r="1.90" fill="#e01414"/>
<circle cx="191.70" cy="537.60" r="1.90" fill="#e01414"/>
<circle cx="194.60" cy="547.50" r="1.90" fill="#e01414"/>
<circle cx="197.80" cy="545.00" r="1.90" fill="#e01414"/>
<circle cx="201.00" cy="546.20" r="1.90" fill="#e01414"/>
<circle cx="203.90" cy="548.70" r="1.90" fill="#e01414"/>
<circle cx="207.10" cy="547.50" r="1.90" fill="#e01414"/>
<circle cx="210.00" cy="549.90" r="1.90" fill="#e01414"/>
<circle cx="213.70" cy="556.00" r="1.90" fill="#e01414"/>
<circle cx="217.40" cy="557.30" r="1.90" fill="#e01414"/>
<circle cx="220.50" cy="556.00" r="1.90" fill="#e01414"/>
<circle cx="223.50" cy="554.80" r="1.90" fill="#e01414"/>
<circle cx="226.00" cy="553.00" r="1.90" fill="#e01414"/>
<circle cx="228.40" cy="551.10" r="1.90" fill="#e01414"/>
<circle cx="232.10" cy="556.00" r="1.90" fill="#e01414"/>
<circle cx="235.80" cy="556.00" r="1.90" fill="#e01414"/>
<circle cx="239.50" cy="554.80" r="1.90" fill="#e01414"/>
<circle cx="243.10" cy="557.30" r="1.90" fill="#e01414"/>
<circle cx="246.00" cy="559.00" r="1.90" fill="#e01414"/>
<polyline points="40.50,540.10 44.10,537.60 47.80,535.20 51.50,525.40 55.20,518.00 58.80,520.50 61.30,513.10 63.70,498.40 67.40,496.00 71.10,499.70 74.80,497.20 78.40,498.40 82.10,494.80 85.80,500.90 89.50,496.00 91.90,486.20 95.60,489.90 99.30,487.40 102.90,481.30 106.60,478.80 109.80,470.20 112.80,471.50 115.90,449.40 118.90,451.90 122.60,439.60 126.20,427.40 128.20,415.00 132.50,410.70 136.80,402.00 140.30,410.70 143.50,408.00 146.30,407.20 148.90,420.20 151.20,424.90 153.30,427.10 155.80,434.00 158.60,452.00 160.20,458.00 162.30,469.00 165.90,478.80 169.60,491.10 173.30,503.30 176.50,508.20 179.90,522.90 183.10,535.20 186.80,537.60 190.40,536.40 194.10,553.60 197.80,552.40 201.50,549.90 205.10,554.80 208.80,556.00 212.50,553.60 216.20,560.90 221.10,559.70 225.00,560.00 230.00,561.00 240.00,561.00 249.00,561.00" fill="none" stroke="#1ee01e" stroke-width="1.20" stroke-linejoin="round"/>
<path d="M40.50 537.86L42.67 541.67L38.33 541.67Z" fill="#1ee01e"/>
<path d="M44.10 535.36L46.27 539.17L41.93 539.17Z" fill="#1ee01e"/>
<path d="M47.80 532.96L49.97 536.77L45.63 536.77Z" fill="#1ee01e"/>
<path d="M51.50 523.16L53.67 526.97L49.33 526.97Z" fill="#1ee01e"/>
<path d="M55.20 515.76L57.37 519.57L53.03 519.57Z" fill="#1ee01e"/>
<path d="M58.80 518.26L60.97 522.07L56.63 522.07Z" fill="#1ee01e"/>
<path d="M61.30 510.86L63.47 514.67L59.13 514.67Z" fill="#1ee01e"/>
<path d="M63.70 496.16L65.87 499.97L61.53 499.97Z" fill="#1ee01e"/>
<path d="M67.40 493.76L69.57 497.57L65.23 497.57Z" fill="#1ee01e"/>
<path d="M71.10 497.46L73.27 501.27L68.93 501.27Z" fill="#1ee01e"/>
<path d="M74.80 494.96L76.97 498.77L72.63 498.77Z" fill="#1ee01e"/>
<path d="M78.40 496.16L80.57 499.97L76.23 499.97Z" fill="#1ee01e"/>
<path d="M82.10 492.56L84.27 496.37L79.93 496.37Z" fill="#1ee01e"/>
<path d="M85.80 498.66L87.97 502.47L83.63 502.47Z" fill="#1ee01e"/>
<path d="M89.50 493.76L91.67 497.57L87.33 497.57Z" fill="#1ee01e"/>
<path d="M91.90 483.96L94.07 487.77L89.73 487.77Z" fill="#1ee01e"/>
<path d="M95.60 487.66L97.77 491.47L93.43 491.47Z" fill="#1ee01e"/>
<path d="M99.30 485.16L101.47 488.97L97.13 488.97Z" fill="#1ee01e"/>
<path d="M102.90 479.06L105.07 482.87L100.73 482.87Z" fill="#1ee01e"/>
<path d="M106.60 476.56L108.77 480.37L104.43 480.37Z" fill="#1ee01e"/>
<path d="M109.80 467.96L111.97 471.77L107.63 471.77Z" fill="#1ee01e"/>
<path d="M112.80 469.26L114.97 473.07L110.63 473.07Z" fill="#1ee01e"/>
<path d="M115.90 447.16L118.07 450.97L113.73 450.97Z" fill="#1ee01e"/>
<path d="M118.90 449.66L121.07 453.47L116.73 453.47Z" fill="#1ee01e"/>
<path d="M122.60 437.36L124.77 441.17L120.43 441.17Z" fill="#1ee01e"/>
<path d="M126.20 425.16L128.37 428.97L124.03 428.97Z" fill="#1ee01e"/>
<path d="M128.20 412.76L130.37 416.57L126.03 416.57Z" fill="#1ee01e"/>
<path d="M132.50 408.46L134.67 412.27L130.33 412.27Z" fill="#1ee01e"/>
<path d="M136.80 399.76L138.97 403.57L134.63 403.57Z" fill="#1ee01e"/>
<path d="M140.30 408.46L142.47 412.27L138.13 412.27Z" fill="#1ee01e"/>
<path d="M143.50 405.76L145.67 409.57L141.33 409.57Z" fill="#1ee01e"/>
<path d="M146.30 404.96L148.47 408.77L144.13 408.77Z" fill="#1ee01e"/>
<path d="M148.90 417.96L151.07 421.77L146.73 421.77Z" fill="#1ee01e"/>
<path d="M151.20 422.66L153.37 426.47L149.03 426.47Z" fill="#1ee01e"/>
<path d="M153.30 424.86L155.47 428.67L151.13 428.67Z" fill="#1ee01e"/>
<path d="M155.80 431.76L157.97 435.57L153.63 435.57Z" fill="#1ee01e"/>
<path d="M158.60 449.76L160.77 453.57L156.43 453.57Z" fill="#1ee01e"/>
<path d="M160.20 455.76L162.37 459.57L158.03 459.57Z" fill="#1ee01e"/>
<path d="M162.30 466.76L164.47 470.57L160.13 470.57Z" fill="#1ee01e"/>
<path d="M165.90 476.56L168.07 480.37L163.73 480.37Z" fill="#1ee01e"/>
<path d="M169.60 488.86L171.77 492.67L167.43 492.67Z" fill="#1ee01e"/>
<path d="M173.30 501.06L175.47 504.87L171.13 504.87Z" fill="#1ee01e"/>
<path d="M176.50 505.96L178.67 509.77L174.33 509.77Z" fill="#1ee01e"/>
<path d="M179.90 520.66L182.07 524.47L177.73 524.47Z" fill="#1ee01e"/>
<path d="M183.10 532.96L185.27 536.77L180.93 536.77Z" fill="#1ee01e"/>
<path d="M186.80 535.36L188.97 539.17L184.63 539.17Z" fill="#1ee01e"/>
<path d="M190.40 534.16L192.57 537.97L188.23 537.97Z" fill="#1ee01e"/>
<path d="M194.10 551.36L196.27 555.17L191.93 555.17Z" fill="#1ee01e"/>
<path d="M197.80 550.16L199.97 553.97L195.63 553.97Z" fill="#1ee01e"/>
<path d="M201.50 547.66L203.67 551.47L199.33 551.47Z" fill="#1ee01e"/>
<path d="M205.10 552.56L207.27 556.37L202.93 556.37Z" fill="#1ee01e"/>
<path d="M208.80 553.76L210.97 557.57L206.63 557.57Z" fill="#1ee01e"/>
<path d="M212.50 551.36L214.67 555.17L210.33 555.17Z" fill="#1ee01e"/>
<path d="M216.20 558.66L218.37 562.47L214.03 562.47Z" fill="#1ee01e"/>
<path d="M221.10 557.46L223.27 561.27L218.93 561.27Z" fill="#1ee01e"/>
<path d="M225.00 557.76L227.17 561.57L222.83 561.57Z" fill="#1ee01e"/>
<path d="M230.00 558.76L232.17 562.57L227.83 562.57Z" fill="#1ee01e"/>
<path d="M240.00 558.76L242.17 562.57L237.83 562.57Z" fill="#1ee01e"/>
<path d="M249.00 558.76L251.17 562.57L246.83 562.57Z" fill="#1ee01e"/>
<polyline points="40.50,548.70 44.10,547.50 47.80,536.40 51.50,532.70 55.20,527.80 57.60,522.90 61.30,525.40 65.00,510.70 67.40,503.30 70.60,492.30 73.50,498.40 77.20,492.30 80.00,490.00 82.10,488.60 85.80,491.10 89.50,493.50 91.90,491.10 94.90,481.30 98.00,486.20 102.20,478.80 106.60,472.70 109.80,465.30 112.80,461.70 115.90,444.50 118.90,439.60 122.60,434.70 125.60,430.00 128.20,412.40 130.80,404.60 134.20,397.70 137.70,399.40 141.10,392.50 143.70,390.80 146.30,414.10 149.80,416.70 152.40,427.10 154.90,427.40 158.60,435.90 161.80,449.40 164.70,471.50 167.60,483.70 170.80,492.30 173.80,505.80 176.50,524.20 179.40,518.00 182.60,537.60 185.50,540.10 189.20,540.10 192.90,540.10 194.60,554.80 197.80,546.20 201.50,552.40 205.10,549.90 208.80,553.60 212.50,551.10 216.20,554.80 219.90,560.90 223.50,556.00 227.20,557.30 230.90,553.60 234.60,554.30 238.20,553.60 241.90,557.30 246.00,559.00 249.00,560.00" fill="none" stroke="#1818cc" stroke-width="1.20" stroke-linejoin="round"/>
<path d="M40.50 551.08L42.80 547.04L38.20 547.04Z" fill="#1818cc"/>
<path d="M44.10 549.88L46.40 545.84L41.80 545.84Z" fill="#1818cc"/>
<path d="M47.80 538.78L50.10 534.74L45.50 534.74Z" fill="#1818cc"/>
<path d="M51.50 535.08L53.80 531.04L49.20 531.04Z" fill="#1818cc"/>
<path d="M55.20 530.18L57.50 526.14L52.90 526.14Z" fill="#1818cc"/>
<path d="M57.60 525.28L59.90 521.24L55.30 521.24Z" fill="#1818cc"/>
<path d="M61.30 527.78L63.60 523.74L59.00 523.74Z" fill="#1818cc"/>
<path d="M65.00 513.08L67.30 509.04L62.70 509.04Z" fill="#1818cc"/>
<path d="M67.40 505.68L69.70 501.64L65.10 501.64Z" fill="#1818cc"/>
<path d="M70.60 494.68L72.90 490.64L68.30 490.64Z" fill="#1818cc"/>
<path d="M73.50 500.78L75.80 496.74L71.20 496.74Z" fill="#1818cc"/>
<path d="M77.20 494.68L79.50 490.64L74.90 490.64Z" fill="#1818cc"/>
<path d="M80.00 492.38L82.30 488.34L77.70 488.34Z" fill="#1818cc"/>
<path d="M82.10 490.98L84.40 486.94L79.80 486.94Z" fill="#1818cc"/>
<path d="M85.80 493.48L88.10 489.44L83.50 489.44Z" fill="#1818cc"/>
<path d="M89.50 495.88L91.80 491.84L87.20 491.84Z" fill="#1818cc"/>
<path d="M91.90 493.48L94.20 489.44L89.60 489.44Z" fill="#1818cc"/>
<path d="M94.90 483.68L97.20 479.64L92.60 479.64Z" fill="#1818cc"/>
<path d="M98.00 488.58L100.30 484.54L95.70 484.54Z" fill="#1818cc"/>
<path d="M102.20 481.18L104.50 477.14L99.90 477.14Z" fill="#1818cc"/>
<path d="M106.60 475.08L108.90 471.04L104.30 471.04Z" fill="#1818cc"/>
<path d="M109.80 467.68L112.10 463.64L107.50 463.64Z" fill="#1818cc"/>
<path d="M112.80 464.08L115.10 460.04L110.50 460.04Z" fill="#1818cc"/>
<path d="M115.90 446.88L118.20 442.84L113.60 442.84Z" fill="#1818cc"/>
<path d="M118.90 441.98L121.20 437.94L116.60 437.94Z" fill="#1818cc"/>
<path d="M122.60 437.08L124.90 433.04L120.30 433.04Z" fill="#1818cc"/>
<path d="M125.60 432.38L127.90 428.34L123.30 428.34Z" fill="#1818cc"/>
<path d="M128.20 414.78L130.50 410.74L125.90 410.74Z" fill="#1818cc"/>
<path d="M130.80 406.98L133.10 402.94L128.50 402.94Z" fill="#1818cc"/>
<path d="M134.20 400.08L136.50 396.04L131.90 396.04Z" fill="#1818cc"/>
<path d="M137.70 401.78L140.00 397.74L135.40 397.74Z" fill="#1818cc"/>
<path d="M141.10 394.88L143.40 390.84L138.80 390.84Z" fill="#1818cc"/>
<path d="M143.70 393.18L146.00 389.14L141.40 389.14Z" fill="#1818cc"/>
<path d="M146.30 416.48L148.60 412.44L144.00 412.44Z" fill="#1818cc"/>
<path d="M149.80 419.08L152.10 415.04L147.50 415.04Z" fill="#1818cc"/>
<path d="M152.40 429.48L154.70 425.44L150.10 425.44Z" fill="#1818cc"/>
<path d="M154.90 429.78L157.20 425.74L152.60 425.74Z" fill="#1818cc"/>
<path d="M158.60 438.28L160.90 434.24L156.30 434.24Z" fill="#1818cc"/>
<path d="M161.80 451.78L164.10 447.74L159.50 447.74Z" fill="#1818cc"/>
<path d="M164.70 473.88L167.00 469.84L162.40 469.84Z" fill="#1818cc"/>
<path d="M167.60 486.08L169.90 482.04L165.30 482.04Z" fill="#1818cc"/>
<path d="M170.80 494.68L173.10 490.64L168.50 490.64Z" fill="#1818cc"/>
<path d="M173.80 508.18L176.10 504.14L171.50 504.14Z" fill="#1818cc"/>
<path d="M176.50 526.58L178.80 522.54L174.20 522.54Z" fill="#1818cc"/>
<path d="M179.40 520.38L181.70 516.34L177.10 516.34Z" fill="#1818cc"/>
<path d="M182.60 539.98L184.90 535.94L180.30 535.94Z" fill="#1818cc"/>
<path d="M185.50 542.48L187.80 538.44L183.20 538.44Z" fill="#1818cc"/>
<path d="M189.20 542.48L191.50 538.44L186.90 538.44Z" fill="#1818cc"/>
<path d="M192.90 542.48L195.20 538.44L190.60 538.44Z" fill="#1818cc"/>
<path d="M194.60 557.18L196.90 553.14L192.30 553.14Z" fill="#1818cc"/>
<path d="M197.80 548.58L200.10 544.54L195.50 544.54Z" fill="#1818cc"/>
<path d="M201.50 554.78L203.80 550.74L199.20 550.74Z" fill="#1818cc"/>
<path d="M205.10 552.28L207.40 548.24L202.80 548.24Z" fill="#1818cc"/>
<path d="M208.80 555.98L211.10 551.94L206.50 551.94Z" fill="#1818cc"/>
<path d="M212.50 553.48L214.80 549.44L210.20 549.44Z" fill="#1818cc"/>
<path d="M216.20 557.18L218.50 553.14L213.90 553.14Z" fill="#1818cc"/>
<path d="M219.90 563.28L222.20 559.24L217.60 559.24Z" fill="#1818cc"/>
<path d="M223.50 558.38L225.80 554.34L221.20 554.34Z" fill="#1818cc"/>
<path d="M227.20 559.68L229.50 555.64L224.90 555.64Z" fill="#1818cc"/>
<path d="M230.90 555.98L233.20 551.94L228.60 551.94Z" fill="#1818cc"/>
<path d="M234.60 556.68L236.90 552.64L232.30 552.64Z" fill="#1818cc"/>
<path d="M238.20 555.98L240.50 551.94L235.90 551.94Z" fill="#1818cc"/>
<path d="M241.90 559.68L244.20 555.64L239.60 555.64Z" fill="#1818cc"/>
<path d="M246.00 561.38L248.30 557.34L243.70 557.34Z" fill="#1818cc"/>
<path d="M249.00 562.38L251.30 558.34L246.70 558.34Z" fill="#1818cc"/>
</g>
<g clip-path="url(#clip_f)">
<polyline points="301.00,559.60 303.33,559.60 305.66,559.25 307.99,558.88 310.32,558.72 312.65,559.13 314.99,558.67 317.32,558.47 319.65,559.09 321.98,558.66 324.31,558.36 326.64,557.31 328.97,557.21 331.30,555.99 333.63,553.66 335.96,552.72 338.30,550.94 340.63,550.09 342.96,547.55 345.29,545.71 347.62,544.39 349.95,542.10 352.28,540.52 354.61,538.13 356.94,536.49 359.27,532.51 361.61,526.90 363.94,521.20 366.27,515.24 368.60,510.43 370.93,504.86 373.26,497.38 375.59,486.84 377.92,475.51 380.25,463.65 382.58,453.84 384.92,439.79 387.25,424.63 389.58,412.78 391.91,401.28 394.24,386.18 396.57,372.35 398.90,365.12 401.23,358.34 403.56,353.82 405.89,353.07 408.23,356.87 410.56,360.68 412.89,367.57 415.22,374.28 417.55,387.40 419.88,403.54 422.21,410.18 424.54,421.15 426.87,438.73 429.20,450.06 431.54,464.65 433.87,475.97 436.20,487.68 438.53,500.64 440.86,510.84 443.19,518.31 445.52,524.12 447.85,529.42 450.18,533.96 452.51,538.68 454.85,540.97 457.18,544.64 459.51,546.61 461.84,549.29 464.17,551.13 466.50,552.01 468.83,553.38 471.16,553.37 473.49,553.78 475.82,554.36 478.16,555.28 480.49,556.12 482.82,555.34 485.15,556.95 487.48,557.53 489.81,557.47 492.14,558.29 494.47,557.99 496.80,557.34 499.13,558.35 501.47,558.16 503.80,558.46 506.13,558.71 508.46,559.39 510.79,559.04" fill="none" stroke="#000000" stroke-width="1.20" stroke-linejoin="round"/>
<rect x="299.20" y="557.80" width="3.60" height="3.60" fill="#000000"/>
<rect x="301.53" y="557.80" width="3.60" height="3.60" fill="#000000"/>
<rect x="303.86" y="557.45" width="3.60" height="3.60" fill="#000000"/>
<rect x="306.19" y="557.08" width="3.60" height="3.60" fill="#000000"/>
<rect x="308.52" y="556.92" width="3.60" height="3.60" fill="#000000"/>
<rect x="310.85" y="557.33" width="3.60" height="3.60" fill="#000000"/>
<rect x="313.19" y="556.87" width="3.60" height="3.60" fill="#000000"/>
<rect x="315.52" y="556.67" width="3.60" height="3.60" fill="#000000"/>
<rect x="317.85" y="557.29" width="3.60" height="3.60" fill="#000000"/>
<rect x="320.18" y="556.86" width="3.60" height="3.60" fill="#000000"/>
<rect x="322.51" y="556.56" width="3.60" height="3.60" fill="#000000"/>
<rect x="324.84" y="555.51" width="3.60" height="3.60" fill="#000000"/>
<rect x="327.17" y="555.41" width="3.60" height="3.60" fill="#000000"/>
<rect x="329.50" y="554.19" width="3.60" height="3.60" fill="#000000"/>
<rect x="331.83" y="551.86" width="3.60" height="3.60" fill="#000000"/>
<rect x="334.16" y="550.92" width="3.60" height="3.60" fill="#000000"/>
<rect x="336.50" y="549.14" width="3.60" height="3.60" fill="#000000"/>
<rect x="338.83" y="548.29" width="3.60" height="3.60" fill="#000000"/>
<rect x="341.16" y="545.75" width="3.60" height="3.60" fill="#000000"/>
<rect x="343.49" y="543.91" width="3.60" height="3.60" fill="#000000"/>
<rect x="345.82" y="542.59" width="3.60" height="3.60" fill="#000000"/>
<rect x="348.15" y="540.30" width="3.60" height="3.60" fill="#000000"/>
<rect x="350.48" y="538.72" width="3.60" height="3.60" fill="#000000"/>
<rect x="352.81" y="536.33" width="3.60" height="3.60" fill="#000000"/>
<rect x="355.14" y="534.69" width="3.60" height="3.60" fill="#000000"/>
<rect x="357.47" y="530.71" width="3.60" height="3.60" fill="#000000"/>
<rect x="359.81" y="525.10" width="3.60" height="3.60" fill="#000000"/>
<rect x="362.14" y="519.40" width="3.60" height="3.60" fill="#000000"/>
<rect x="364.47" y="513.44" width="3.60" height="3.60" fill="#000000"/>
<rect x="366.80" y="508.63" width="3.60" height="3.60" fill="#000000"/>
<rect x="369.13" y="503.06" width="3.60" height="3.60" fill="#000000"/>
<rect x="371.46" y="495.58" width="3.60" height="3.60" fill="#000000"/>
<rect x="373.79" y="485.04" width="3.60" height="3.60" fill="#000000"/>
<rect x="376.12" y="473.71" width="3.60" height="3.60" fill="#000000"/>
<rect x="378.45" y="461.85" width="3.60" height="3.60" fill="#000000"/>
<rect x="380.78" y="452.04" width="3.60" height="3.60" fill="#000000"/>
<rect x="383.12" y="437.99" width="3.60" height="3.60" fill="#000000"/>
<rect x="385.45" y="422.83" width="3.60" height="3.60" fill="#000000"/>
<rect x="387.78" y="410.98" width="3.60" height="3.60" fill="#000000"/>
<rect x="390.11" y="399.48" width="3.60" height="3.60" fill="#000000"/>
<rect x="392.44" y="384.38" width="3.60" height="3.60" fill="#000000"/>
<rect x="394.77" y="370.55" width="3.60" height="3.60" fill="#000000"/>
<rect x="397.10" y="363.32" width="3.60" height="3.60" fill="#000000"/>
<rect x="399.43" y="356.54" width="3.60" height="3.60" fill="#000000"/>
<rect x="401.76" y="352.02" width="3.60" height="3.60" fill="#000000"/>
<rect x="404.09" y="351.27" width="3.60" height="3.60" fill="#000000"/>
<rect x="406.43" y="355.07" width="3.60" height="3.60" fill="#000000"/>
<rect x="408.76" y="358.88" width="3.60" height="3.60" fill="#000000"/>
<rect x="411.09" y="365.77" width="3.60" height="3.60" fill="#000000"/>
<rect x="413.42" y="372.48" width="3.60" height="3.60" fill="#000000"/>
<rect x="415.75" y="385.60" width="3.60" height="3.60" fill="#000000"/>
<rect x="418.08" y="401.74" width="3.60" height="3.60" fill="#000000"/>
<rect x="420.41" y="408.38" width="3.60" height="3.60" fill="#000000"/>
<rect x="422.74" y="419.35" width="3.60" height="3.60" fill="#000000"/>
<rect x="425.07" y="436.93" width="3.60" height="3.60" fill="#000000"/>
<rect x="427.40" y="448.26" width="3.60" height="3.60" fill="#000000"/>
<rect x="429.74" y="462.85" width="3.60" height="3.60" fill="#000000"/>
<rect x="432.07" y="474.17" width="3.60" height="3.60" fill="#000000"/>
<rect x="434.40" y="485.88" width="3.60" height="3.60" fill="#000000"/>
<rect x="436.73" y="498.84" width="3.60" height="3.60" fill="#000000"/>
<rect x="439.06" y="509.04" width="3.60" height="3.60" fill="#000000"/>
<rect x="441.39" y="516.51" width="3.60" height="3.60" fill="#000000"/>
<rect x="443.72" y="522.32" width="3.60" height="3.60" fill="#000000"/>
<rect x="446.05" y="527.62" width="3.60" height="3.60" fill="#000000"/>
<rect x="448.38" y="532.16" width="3.60" height="3.60" fill="#000000"/>
<rect x="450.71" y="536.88" width="3.60" height="3.60" fill="#000000"/>
<rect x="453.05" y="539.17" width="3.60" height="3.60" fill="#000000"/>
<rect x="455.38" y="542.84" width="3.60" height="3.60" fill="#000000"/>
<rect x="457.71" y="544.81" width="3.60" height="3.60" fill="#000000"/>
<rect x="460.04" y="547.49" width="3.60" height="3.60" fill="#000000"/>
<rect x="462.37" y="549.33" width="3.60" height="3.60" fill="#000000"/>
<rect x="464.70" y="550.21" width="3.60" height="3.60" fill="#000000"/>
<rect x="467.03" y="551.58" width="3.60" height="3.60" fill="#000000"/>
<rect x="469.36" y="551.57" width="3.60" height="3.60" fill="#000000"/>
<rect x="471.69" y="551.98" width="3.60" height="3.60" fill="#000000"/>
<rect x="474.02" y="552.56" width="3.60" height="3.60" fill="#000000"/>
<rect x="476.36" y="553.48" width="3.60" height="3.60" fill="#000000"/>
<rect x="478.69" y="554.32" width="3.60" height="3.60" fill="#000000"/>
<rect x="481.02" y="553.54" width="3.60" height="3.60" fill="#000000"/>
<rect x="483.35" y="555.15" width="3.60" height="3.60" fill="#000000"/>
<rect x="485.68" y="555.73" width="3.60" height="3.60" fill="#000000"/>
<rect x="488.01" y="555.67" width="3.60" height="3.60" fill="#000000"/>
<rect x="490.34" y="556.49" width="3.60" height="3.60" fill="#000000"/>
<rect x="492.67" y="556.19" width="3.60" height="3.60" fill="#000000"/>
<rect x="495.00" y="555.54" width="3.60" height="3.60" fill="#000000"/>
<rect x="497.33" y="556.55" width="3.60" height="3.60" fill="#000000"/>
<rect x="499.67" y="556.36" width="3.60" height="3.60" fill="#000000"/>
<rect x="502.00" y="556.66" width="3.60" height="3.60" fill="#000000"/>
<rect x="504.33" y="556.91" width="3.60" height="3.60" fill="#000000"/>
<rect x="506.66" y="557.59" width="3.60" height="3.60" fill="#000000"/>
<rect x="508.99" y="557.24" width="3.60" height="3.60" fill="#000000"/>
<polyline points="301.00,559.60 303.33,558.61 305.66,559.07 307.99,558.89 310.32,559.17 312.65,557.99 314.99,558.42 317.32,558.19 319.65,557.97 321.98,557.94 324.31,542.50 326.64,557.88 328.97,557.05 331.30,557.14 333.63,556.07 335.96,553.82 338.30,554.62 340.63,552.55 342.96,551.45 345.29,550.90 347.62,531.90 349.95,547.07 352.28,543.70 354.61,540.80 356.94,536.41 359.27,534.38 361.61,529.24 363.94,525.06 366.27,520.49 368.60,516.04 370.93,510.39 373.26,504.56 375.59,499.47 377.92,495.91 380.25,486.31 382.58,482.44 384.92,471.61 387.25,465.35 389.58,459.75 391.91,452.44 394.24,450.43 396.57,447.15 398.90,444.84 401.23,443.71 403.56,444.91 405.89,446.74 408.23,449.69 410.56,454.08 412.89,459.48 415.22,466.95 417.55,472.40 419.88,480.48 422.21,486.41 424.54,495.24 426.87,502.90 429.20,512.02 431.54,519.13 433.87,524.69 436.20,527.98 438.53,532.53 440.86,536.89 443.19,538.92 445.52,541.90 447.85,544.59 450.18,546.39 452.51,547.26 454.85,548.88 457.18,549.33 459.51,550.90 461.84,550.96 464.17,552.60 466.50,552.30 468.83,552.57 471.16,553.86 473.49,554.25 475.82,554.85 478.16,555.97 480.49,556.92 482.82,555.95 485.15,557.53 487.48,557.88 489.81,557.96 492.14,558.52 494.47,557.53 496.80,558.60 499.13,558.23 501.47,558.48 503.80,558.39 506.13,558.41 508.46,558.39 510.79,558.95" fill="none" stroke="#e01414" stroke-width="1.20" stroke-linejoin="round"/>
<circle cx="301.00" cy="559.60" r="1.90" fill="#e01414"/>
<circle cx="303.33" cy="558.61" r="1.90" fill="#e01414"/>
<circle cx="305.66" cy="559.07" r="1.90" fill="#e01414"/>
<circle cx="307.99" cy="558.89" r="1.90" fill="#e01414"/>
<circle cx="310.32" cy="559.17" r="1.90" fill="#e01414"/>
<circle cx="312.65" cy="557.99" r="1.90" fill="#e01414"/>
<circle cx="314.99" cy="558.42" r="1.90" fill="#e01414"/>
<circle cx="317.32" cy="558.19" r="1.90" fill="#e01414"/>
<circle cx="319.65" cy="557.97" r="1.90" fill="#e01414"/>
<circle cx="321.98" cy="557.94" r="1.90" fill="#e01414"/>
<circle cx="324.31" cy="542.50" r="1.90" fill="#e01414"/>
<circle cx="326.64" cy="557.88" r="1.90" fill="#e01414"/>
<circle cx="328.97" cy="557.05" r="1.90" fill="#e01414"/>
<circle cx="331.30" cy="557.14" r="1.90" fill="#e01414"/>
<circle cx="333.63" cy="556.07" r="1.90" fill="#e01414"/>
<circle cx="335.96" cy="553.82" r="1.90" fill="#e01414"/>
<circle cx="338.30" cy="554.62" r="1.90" fill="#e01414"/>
<circle cx="340.63" cy="552.55" r="1.90" fill="#e01414"/>
<circle cx="342.96" cy="551.45" r="1.90" fill="#e01414"/>
<circle cx="345.29" cy="550.90" r="1.90" fill="#e01414"/>
<circle cx="347.62" cy="531.90" r="1.90" fill="#e01414"/>
<circle cx="349.95" cy="547.07" r="1.90" fill="#e01414"/>
<circle cx="352.28" cy="543.70" r="1.90" fill="#e01414"/>
<circle cx="354.61" cy="540.80" r="1.90" fill="#e01414"/>
<circle cx="356.94" cy="536.41" r="1.90" fill="#e01414"/>
<circle cx="359.27" cy="534.38" r="1.90" fill="#e01414"/>
<circle cx="361.61" cy="529.24" r="1.90" fill="#e01414"/>
<circle cx="363.94" cy="525.06" r="1.90" fill="#e01414"/>
<circle cx="366.27" cy="520.49" r="1.90" fill="#e01414"/>
<circle cx="368.60" cy="516.04" r="1.90" fill="#e01414"/>
<circle cx="370.93" cy="510.39" r="1.90" fill="#e01414"/>
<circle cx="373.26" cy="504.56" r="1.90" fill="#e01414"/>
<circle cx="375.59" cy="499.47" r="1.90" fill="#e01414"/>
<circle cx="377.92" cy="495.91" r="1.90" fill="#e01414"/>
<circle cx="380.25" cy="486.31" r="1.90" fill="#e01414"/>
<circle cx="382.58" cy="482.44" r="1.90" fill="#e01414"/>
<circle cx="384.92" cy="471.61" r="1.90" fill="#e01414"/>
<circle cx="387.25" cy="465.35" r="1.90" fill="#e01414"/>
<circle cx="389.58" cy="459.75" r="1.90" fill="#e01414"/>
<circle cx="391.91" cy="452.44" r="1.90" fill="#e01414"/>
<circle cx="394.24" cy="450.43" r="1.90" fill="#e01414"/>
<circle cx="396.57" cy="447.15" r="1.90" fill="#e01414"/>
<circle cx="398.90" cy="444.84" r="1.90" fill="#e01414"/>
<circle cx="401.23" cy="443.71" r="1.90" fill="#e01414"/>
<circle cx="403.56" cy="444.91" r="1.90" fill="#e01414"/>
<circle cx="405.89" cy="446.74" r="1.90" fill="#e01414"/>
<circle cx="408.23" cy="449.69" r="1.90" fill="#e01414"/>
<circle cx="410.56" cy="454.08" r="1.90" fill="#e01414"/>
<circle cx="412.89" cy="459.48" r="1.90" fill="#e01414"/>
<circle cx="415.22" cy="466.95" r="1.90" fill="#e01414"/>
<circle cx="417.55" cy="472.40" r="1.90" fill="#e01414"/>
<circle cx="419.88" cy="480.48" r="1.90" fill="#e01414"/>
<circle cx="422.21" cy="486.41" r="1.90" fill="#e01414"/>
<circle cx="424.54" cy="495.24" r="1.90" fill="#e01414"/>
<circle cx="426.87" cy="502.90" r="1.90" fill="#e01414"/>
<circle cx="429.20" cy="512.02" r="1.90" fill="#e01414"/>
<circle cx="431.54" cy="519.13" r="1.90" fill="#e01414"/>
<circle cx="433.87" cy="524.69" r="1.90" fill="#e01414"/>
<circle cx="436.20" cy="527.98" r="1.90" fill="#e01414"/>
<circle cx="438.53" cy="532.53" r="1.90" fill="#e01414"/>
<circle cx="440.86" cy="536.89" r="1.90" fill="#e01414"/>
<circle cx="443.19" cy="538.92" r="1.90" fill="#e01414"/>
<circle cx="445.52" cy="541.90" r="1.90" fill="#e01414"/>
<circle cx="447.85" cy="544.59" r="1.90" fill="#e01414"/>
<circle cx="450.18" cy="546.39" r="1.90" fill="#e01414"/>
<circle cx="452.51" cy="547.26" r="1.90" fill="#e01414"/>
<circle cx="454.85" cy="548.88" r="1.90" fill="#e01414"/>
<circle cx="457.18" cy="549.33" r="1.90" fill="#e01414"/>
<circle cx="459.51" cy="550.90" r="1.90" fill="#e01414"/>
<circle cx="461.84" cy="550.96" r="1.90" fill="#e01414"/>
<circle cx="464.17" cy="552.60" r="1.90" fill="#e01414"/>
<circle cx="466.50" cy="552.30" r="1.90" fill="#e01414"/>
<circle cx="468.83" cy="552.57" r="1.90" fill="#e01414"/>
<circle cx="471.16" cy="553.86" r="1.90" fill="#e01414"/>
<circle cx="473.49" cy="554.25" r="1.90" fill="#e01414"/>
<circle cx="475.82" cy="554.85" r="1.90" fill="#e01414"/>
<circle cx="478.16" cy="555.97" r="1.90" fill="#e01414"/>
<circle cx="480.49" cy="556.92" r="1.90" fill="#e01414"/>
<circle cx="482.82" cy="555.95" r="1.90" fill="#e01414"/>
<circle cx="485.15" cy="557.53" r="1.90" fill="#e01414"/>
<circle cx="487.48" cy="557.88" r="1.90" fill="#e01414"/>
<circle cx="489.81" cy="557.96" r="1.90" fill="#e01414"/>
<circle cx="492.14" cy="558.52" r="1.90" fill="#e01414"/>
<circle cx="494.47" cy="557.53" r="1.90" fill="#e01414"/>
<circle cx="496.80" cy="558.60" r="1.90" fill="#e01414"/>
<circle cx="499.13" cy="558.23" r="1.90" fill="#e01414"/>
<circle cx="501.47" cy="558.48" r="1.90" fill="#e01414"/>
<circle cx="503.80" cy="558.39" r="1.90" fill="#e01414"/>
<circle cx="506.13" cy="558.41" r="1.90" fill="#e01414"/>
<circle cx="508.46" cy="558.39" r="1.90" fill="#e01414"/>
<circle cx="510.79" cy="558.95" r="1.90" fill="#e01414"/>
<polyline points="301.00,559.05 303.33,559.50 305.66,558.29 307.99,559.13 310.32,558.39 312.65,558.27 314.99,559.23 317.32,558.23 319.65,558.01 321.98,558.28 324.31,558.36 326.64,557.66 328.97,557.85 331.30,556.45 333.63,555.74 335.96,554.70 338.30,553.24 340.63,552.14 342.96,551.07 345.29,550.67 347.62,549.04 349.95,547.30 352.28,545.76 354.61,542.83 356.94,541.23 359.27,539.16 361.61,536.83 363.94,532.12 366.27,528.44 368.60,523.73 370.93,520.58 373.26,515.10 375.59,508.03 377.92,505.23 380.25,497.13 382.58,492.46 384.92,486.95 387.25,478.87 389.58,475.06 391.91,470.36 394.24,466.32 396.57,461.34 398.90,456.50 401.23,454.16 403.56,457.06 405.89,460.77 408.23,463.97 410.56,469.59 412.89,472.82 415.22,478.07 417.55,483.93 419.88,489.55 422.21,497.73 424.54,501.82 426.87,509.15 429.20,515.31 431.54,521.99 433.87,525.57 436.20,532.50 438.53,535.44 440.86,539.24 443.19,542.49 445.52,546.65 447.85,547.32 450.18,549.24 452.51,550.84 454.85,552.98 457.18,552.21 459.51,554.64 461.84,554.82 464.17,554.57 466.50,555.43 468.83,555.48 471.16,556.69 473.49,556.13 475.82,556.07 478.16,556.22 480.49,556.39 482.82,556.56 485.15,556.36 487.48,557.98 489.81,556.15 492.14,555.46 494.47,557.36 496.80,557.50 499.13,557.91 501.47,557.78 503.80,557.96 506.13,558.36 508.46,558.83 510.79,558.28" fill="none" stroke="#1ee01e" stroke-width="1.20" stroke-linejoin="round"/>
<path d="M301.00 556.80L303.17 560.62L298.83 560.62Z" fill="#1ee01e"/>
<path d="M303.33 557.26L305.50 561.08L301.16 561.08Z" fill="#1ee01e"/>
<path d="M305.66 556.05L307.83 559.86L303.49 559.86Z" fill="#1ee01e"/>
<path d="M307.99 556.89L310.16 560.71L305.82 560.71Z" fill="#1ee01e"/>
<path d="M310.32 556.14L312.49 559.96L308.15 559.96Z" fill="#1ee01e"/>
<path d="M312.65 556.02L314.82 559.84L310.49 559.84Z" fill="#1ee01e"/>
<path d="M314.99 556.98L317.16 560.80L312.82 560.80Z" fill="#1ee01e"/>
<path d="M317.32 555.99L319.49 559.81L315.15 559.81Z" fill="#1ee01e"/>
<path d="M319.65 555.77L321.82 559.58L317.48 559.58Z" fill="#1ee01e"/>
<path d="M321.98 556.04L324.15 559.85L319.81 559.85Z" fill="#1ee01e"/>
<path d="M324.31 556.11L326.48 559.93L322.14 559.93Z" fill="#1ee01e"/>
<path d="M326.64 555.41L328.81 559.23L324.47 559.23Z" fill="#1ee01e"/>
<path d="M328.97 555.60L331.14 559.42L326.80 559.42Z" fill="#1ee01e"/>
<path d="M331.30 554.20L333.47 558.02L329.13 558.02Z" fill="#1ee01e"/>
<path d="M333.63 553.50L335.80 557.31L331.46 557.31Z" fill="#1ee01e"/>
<path d="M335.96 552.45L338.13 556.27L333.80 556.27Z" fill="#1ee01e"/>
<path d="M338.30 550.99L340.47 554.81L336.13 554.81Z" fill="#1ee01e"/>
<path d="M340.63 549.90L342.80 553.71L338.46 553.71Z" fill="#1ee01e"/>
<path d="M342.96 548.83L345.13 552.64L340.79 552.64Z" fill="#1ee01e"/>
<path d="M345.29 548.43L347.46 552.25L343.12 552.25Z" fill="#1ee01e"/>
<path d="M347.62 546.80L349.79 550.61L345.45 550.61Z" fill="#1ee01e"/>
<path d="M349.95 545.06L352.12 548.87L347.78 548.87Z" fill="#1ee01e"/>
<path d="M352.28 543.52L354.45 547.34L350.11 547.34Z" fill="#1ee01e"/>
<path d="M354.61 540.59L356.78 544.40L352.44 544.40Z" fill="#1ee01e"/>
<path d="M356.94 538.99L359.11 542.80L354.77 542.80Z" fill="#1ee01e"/>
<path d="M359.27 536.92L361.44 540.73L357.11 540.73Z" fill="#1ee01e"/>
<path d="M361.61 534.58L363.78 538.40L359.44 538.40Z" fill="#1ee01e"/>
<path d="M363.94 529.88L366.11 533.70L361.77 533.70Z" fill="#1ee01e"/>
<path d="M366.27 526.20L368.44 530.01L364.10 530.01Z" fill="#1ee01e"/>
<path d="M368.60 521.49L370.77 525.30L366.43 525.30Z" fill="#1ee01e"/>
<path d="M370.93 518.34L373.10 522.15L368.76 522.15Z" fill="#1ee01e"/>
<path d="M373.26 512.86L375.43 516.67L371.09 516.67Z" fill="#1ee01e"/>
<path d="M375.59 505.79L377.76 509.60L373.42 509.60Z" fill="#1ee01e"/>
<path d="M377.92 502.99L380.09 506.80L375.75 506.80Z" fill="#1ee01e"/>
<path d="M380.25 494.89L382.42 498.70L378.08 498.70Z" fill="#1ee01e"/>
<path d="M382.58 490.21L384.75 494.03L380.42 494.03Z" fill="#1ee01e"/>
<path d="M384.92 484.71L387.09 488.52L382.75 488.52Z" fill="#1ee01e"/>
<path d="M387.25 476.63L389.42 480.44L385.08 480.44Z" fill="#1ee01e"/>
<path d="M389.58 472.82L391.75 476.63L387.41 476.63Z" fill="#1ee01e"/>
<path d="M391.91 468.12L394.08 471.93L389.74 471.93Z" fill="#1ee01e"/>
<path d="M394.24 464.08L396.41 467.89L392.07 467.89Z" fill="#1ee01e"/>
<path d="M396.57 459.10L398.74 462.91L394.40 462.91Z" fill="#1ee01e"/>
<path d="M398.90 454.26L401.07 458.07L396.73 458.07Z" fill="#1ee01e"/>
<path d="M401.23 451.91L403.40 455.73L399.06 455.73Z" fill="#1ee01e"/>
<path d="M403.56 454.81L405.73 458.63L401.39 458.63Z" fill="#1ee01e"/>
<path d="M405.89 458.52L408.06 462.34L403.73 462.34Z" fill="#1ee01e"/>
<path d="M408.23 461.72L410.40 465.54L406.06 465.54Z" fill="#1ee01e"/>
<path d="M410.56 467.35L412.73 471.16L408.39 471.16Z" fill="#1ee01e"/>
<path d="M412.89 470.58L415.06 474.39L410.72 474.39Z" fill="#1ee01e"/>
<path d="M415.22 475.83L417.39 479.64L413.05 479.64Z" fill="#1ee01e"/>
<path d="M417.55 481.69L419.72 485.51L415.38 485.51Z" fill="#1ee01e"/>
<path d="M419.88 487.30L422.05 491.12L417.71 491.12Z" fill="#1ee01e"/>
<path d="M422.21 495.48L424.38 499.30L420.04 499.30Z" fill="#1ee01e"/>
<path d="M424.54 499.57L426.71 503.39L422.37 503.39Z" fill="#1ee01e"/>
<path d="M426.87 506.91L429.04 510.72L424.70 510.72Z" fill="#1ee01e"/>
<path d="M429.20 513.06L431.37 516.88L427.04 516.88Z" fill="#1ee01e"/>
<path d="M431.54 519.74L433.71 523.56L429.37 523.56Z" fill="#1ee01e"/>
<path d="M433.87 523.33L436.04 527.14L431.70 527.14Z" fill="#1ee01e"/>
<path d="M436.20 530.26L438.37 534.07L434.03 534.07Z" fill="#1ee01e"/>
<path d="M438.53 533.19L440.70 537.01L436.36 537.01Z" fill="#1ee01e"/>
<path d="M440.86 536.99L443.03 540.81L438.69 540.81Z" fill="#1ee01e"/>
<path d="M443.19 540.24L445.36 544.06L441.02 544.06Z" fill="#1ee01e"/>
<path d="M445.52 544.41L447.69 548.22L443.35 548.22Z" fill="#1ee01e"/>
<path d="M447.85 545.07L450.02 548.89L445.68 548.89Z" fill="#1ee01e"/>
<path d="M450.18 546.99L452.35 550.81L448.01 550.81Z" fill="#1ee01e"/>
<path d="M452.51 548.60L454.68 552.41L450.35 552.41Z" fill="#1ee01e"/>
<path d="M454.85 550.73L457.02 554.55L452.68 554.55Z" fill="#1ee01e"/>
<path d="M457.18 549.97L459.35 553.78L455.01 553.78Z" fill="#1ee01e"/>
<path d="M459.51 552.40L461.68 556.21L457.34 556.21Z" fill="#1ee01e"/>
<path d="M461.84 552.58L464.01 556.39L459.67 556.39Z" fill="#1ee01e"/>
<path d="M464.17 552.33L466.34 556.14L462.00 556.14Z" fill="#1ee01e"/>
<path d="M466.50 553.19L468.67 557.00L464.33 557.00Z" fill="#1ee01e"/>
<path d="M468.83 553.24L471.00 557.05L466.66 557.05Z" fill="#1ee01e"/>
<path d="M471.16 554.45L473.33 558.26L468.99 558.26Z" fill="#1ee01e"/>
<path d="M473.49 553.89L475.66 557.70L471.32 557.70Z" fill="#1ee01e"/>
<path d="M475.82 553.83L477.99 557.64L473.66 557.64Z" fill="#1ee01e"/>
<path d="M478.16 553.98L480.33 557.79L475.99 557.79Z" fill="#1ee01e"/>
<path d="M480.49 554.14L482.66 557.96L478.32 557.96Z" fill="#1ee01e"/>
<path d="M482.82 554.31L484.99 558.13L480.65 558.13Z" fill="#1ee01e"/>
<path d="M485.15 554.11L487.32 557.93L482.98 557.93Z" fill="#1ee01e"/>
<path d="M487.48 555.74L489.65 559.55L485.31 559.55Z" fill="#1ee01e"/>
<path d="M489.81 553.91L491.98 557.72L487.64 557.72Z" fill="#1ee01e"/>
<path d="M492.14 553.22L494.31 557.03L489.97 557.03Z" fill="#1ee01e"/>
<path d="M494.47 555.11L496.64 558.93L492.30 558.93Z" fill="#1ee01e"/>
<path d="M496.80 555.25L498.97 559.07L494.63 559.07Z" fill="#1ee01e"/>
<path d="M499.13 555.67L501.30 559.48L496.97 559.48Z" fill="#1ee01e"/>
<path d="M501.47 555.53L503.64 559.35L499.30 559.35Z" fill="#1ee01e"/>
<path d="M503.80 555.72L505.97 559.53L501.63 559.53Z" fill="#1ee01e"/>
<path d="M506.13 556.11L508.30 559.93L503.96 559.93Z" fill="#1ee01e"/>
<path d="M508.46 556.58L510.63 560.40L506.29 560.40Z" fill="#1ee01e"/>
<path d="M510.79 556.03L512.96 559.85L508.62 559.85Z" fill="#1ee01e"/>
<polyline points="301.00,559.02 303.33,559.17 305.66,558.65 307.99,558.99 310.32,559.22 312.65,558.90 314.99,559.41 317.32,558.13 319.65,558.54 321.98,557.88 324.31,557.53 326.64,557.52 328.97,557.41 331.30,557.20 333.63,556.94 335.96,557.24 338.30,555.64 340.63,553.49 342.96,553.48 345.29,552.15 347.62,550.90 349.95,550.27 352.28,547.97 354.61,545.91 356.94,545.92 359.27,543.04 361.61,539.32 363.94,536.17 366.27,533.04 368.60,530.06 370.93,526.58 373.26,523.55 375.59,521.16 377.92,516.56 380.25,513.26 382.58,509.59 384.92,505.87 387.25,498.83 389.58,497.13 391.91,493.85 394.24,492.45 396.57,491.68 398.90,490.38 401.23,492.96 403.56,496.42 405.89,499.25 408.23,501.64 410.56,504.66 412.89,509.78 415.22,513.61 417.55,517.60 419.88,522.38 422.21,525.27 424.54,529.74 426.87,533.13 429.20,535.68 431.54,538.29 433.87,541.64 436.20,543.24 438.53,545.08 440.86,546.73 443.19,549.75 445.52,550.68 447.85,552.55 450.18,553.10 452.51,553.72 454.85,555.12 457.18,555.84 459.51,556.01 461.84,555.49 464.17,556.45 466.50,557.09 468.83,557.13 471.16,557.53 473.49,557.83 475.82,557.35 478.16,558.19 480.49,556.50 482.82,557.19 485.15,556.11 487.48,557.84 489.81,557.53 492.14,558.39 494.47,557.42 496.80,556.64 499.13,558.35 501.47,557.10 503.80,557.19 506.13,557.80 508.46,558.26 510.79,557.75" fill="none" stroke="#1818cc" stroke-width="1.20" stroke-linejoin="round"/>
<path d="M301.00 561.26L303.17 557.45L298.83 557.45Z" fill="#1818cc"/>
<path d="M303.33 561.42L305.50 557.60L301.16 557.60Z" fill="#1818cc"/>
<path d="M305.66 560.89L307.83 557.08L303.49 557.08Z" fill="#1818cc"/>
<path d="M307.99 561.24L310.16 557.42L305.82 557.42Z" fill="#1818cc"/>
<path d="M310.32 561.46L312.49 557.65L308.15 557.65Z" fill="#1818cc"/>
<path d="M312.65 561.14L314.82 557.33L310.49 557.33Z" fill="#1818cc"/>
<path d="M314.99 561.66L317.16 557.84L312.82 557.84Z" fill="#1818cc"/>
<path d="M317.32 560.37L319.49 556.56L315.15 556.56Z" fill="#1818cc"/>
<path d="M319.65 560.79L321.82 556.97L317.48 556.97Z" fill="#1818cc"/>
<path d="M321.98 560.13L324.15 556.31L319.81 556.31Z" fill="#1818cc"/>
<path d="M324.31 559.78L326.48 555.96L322.14 555.96Z" fill="#1818cc"/>
<path d="M326.64 559.77L328.81 555.95L324.47 555.95Z" fill="#1818cc"/>
<path d="M328.97 559.66L331.14 555.84L326.80 555.84Z" fill="#1818cc"/>
<path d="M331.30 559.45L333.47 555.63L329.13 555.63Z" fill="#1818cc"/>
<path d="M333.63 559.18L335.80 555.37L331.46 555.37Z" fill="#1818cc"/>
<path d="M335.96 559.48L338.13 555.67L333.80 555.67Z" fill="#1818cc"/>
<path d="M338.30 557.88L340.47 554.07L336.13 554.07Z" fill="#1818cc"/>
<path d="M340.63 555.74L342.80 551.92L338.46 551.92Z" fill="#1818cc"/>
<path d="M342.96 555.72L345.13 551.91L340.79 551.91Z" fill="#1818cc"/>
<path d="M345.29 554.39L347.46 550.58L343.12 550.58Z" fill="#1818cc"/>
<path d="M347.62 553.15L349.79 549.33L345.45 549.33Z" fill="#1818cc"/>
<path d="M349.95 552.52L352.12 548.70L347.78 548.70Z" fill="#1818cc"/>
<path d="M352.28 550.21L354.45 546.39L350.11 546.39Z" fill="#1818cc"/>
<path d="M354.61 548.15L356.78 544.34L352.44 544.34Z" fill="#1818cc"/>
<path d="M356.94 548.16L359.11 544.35L354.77 544.35Z" fill="#1818cc"/>
<path d="M359.27 545.28L361.44 541.47L357.11 541.47Z" fill="#1818cc"/>
<path d="M361.61 541.56L363.78 537.75L359.44 537.75Z" fill="#1818cc"/>
<path d="M363.94 538.41L366.11 534.60L361.77 534.60Z" fill="#1818cc"/>
<path d="M366.27 535.28L368.44 531.47L364.10 531.47Z" fill="#1818cc"/>
<path d="M368.60 532.31L370.77 528.49L366.43 528.49Z" fill="#1818cc"/>
<path d="M370.93 528.83L373.10 525.01L368.76 525.01Z" fill="#1818cc"/>
<path d="M373.26 525.80L375.43 521.98L371.09 521.98Z" fill="#1818cc"/>
<path d="M375.59 523.40L377.76 519.59L373.42 519.59Z" fill="#1818cc"/>
<path d="M377.92 518.80L380.09 514.98L375.75 514.98Z" fill="#1818cc"/>
<path d="M380.25 515.51L382.42 511.69L378.08 511.69Z" fill="#1818cc"/>
<path d="M382.58 511.84L384.75 508.02L380.42 508.02Z" fill="#1818cc"/>
<path d="M384.92 508.11L387.09 504.30L382.75 504.30Z" fill="#1818cc"/>
<path d="M387.25 501.07L389.42 497.26L385.08 497.26Z" fill="#1818cc"/>
<path d="M389.58 499.37L391.75 495.56L387.41 495.56Z" fill="#1818cc"/>
<path d="M391.91 496.09L394.08 492.28L389.74 492.28Z" fill="#1818cc"/>
<path d="M394.24 494.69L396.41 490.88L392.07 490.88Z" fill="#1818cc"/>
<path d="M396.57 493.92L398.74 490.11L394.40 490.11Z" fill="#1818cc"/>
<path d="M398.90 492.63L401.07 488.81L396.73 488.81Z" fill="#1818cc"/>
<path d="M401.23 495.20L403.40 491.39L399.06 491.39Z" fill="#1818cc"/>
<path d="M403.56 498.66L405.73 494.84L401.39 494.84Z" fill="#1818cc"/>
<path d="M405.89 501.49L408.06 497.68L403.73 497.68Z" fill="#1818cc"/>
<path d="M408.23 503.88L410.40 500.07L406.06 500.07Z" fill="#1818cc"/>
<path d="M410.56 506.90L412.73 503.09L408.39 503.09Z" fill="#1818cc"/>
<path d="M412.89 512.02L415.06 508.20L410.72 508.20Z" fill="#1818cc"/>
<path d="M415.22 515.85L417.39 512.04L413.05 512.04Z" fill="#1818cc"/>
<path d="M417.55 519.84L419.72 516.03L415.38 516.03Z" fill="#1818cc"/>
<path d="M419.88 524.62L422.05 520.81L417.71 520.81Z" fill="#1818cc"/>
<path d="M422.21 527.51L424.38 523.69L420.04 523.69Z" fill="#1818cc"/>
<path d="M424.54 531.98L426.71 528.17L422.37 528.17Z" fill="#1818cc"/>
<path d="M426.87 535.37L429.04 531.56L424.70 531.56Z" fill="#1818cc"/>
<path d="M429.20 537.92L431.37 534.11L427.04 534.11Z" fill="#1818cc"/>
<path d="M431.54 540.53L433.71 536.72L429.37 536.72Z" fill="#1818cc"/>
<path d="M433.87 543.88L436.04 540.07L431.70 540.07Z" fill="#1818cc"/>
<path d="M436.20 545.49L438.37 541.67L434.03 541.67Z" fill="#1818cc"/>
<path d="M438.53 547.32L440.70 543.51L436.36 543.51Z" fill="#1818cc"/>
<path d="M440.86 548.97L443.03 545.15L438.69 545.15Z" fill="#1818cc"/>
<path d="M443.19 551.99L445.36 548.18L441.02 548.18Z" fill="#1818cc"/>
<path d="M445.52 552.93L447.69 549.11L443.35 549.11Z" fill="#1818cc"/>
<path d="M447.85 554.79L450.02 550.98L445.68 550.98Z" fill="#1818cc"/>
<path d="M450.18 555.34L452.35 551.53L448.01 551.53Z" fill="#1818cc"/>
<path d="M452.51 555.96L454.68 552.15L450.35 552.15Z" fill="#1818cc"/>
<path d="M454.85 557.37L457.02 553.55L452.68 553.55Z" fill="#1818cc"/>
<path d="M457.18 558.09L459.35 554.27L455.01 554.27Z" fill="#1818cc"/>
<path d="M459.51 558.25L461.68 554.44L457.34 554.44Z" fill="#1818cc"/>
<path d="M461.84 557.73L464.01 553.92L459.67 553.92Z" fill="#1818cc"/>
<path d="M464.17 558.69L466.34 554.88L462.00 554.88Z" fill="#1818cc"/>
<path d="M466.50 559.34L468.67 555.52L464.33 555.52Z" fill="#1818cc"/>
<path d="M468.83 559.37L471.00 555.56L466.66 555.56Z" fill="#1818cc"/>
<path d="M471.16 559.77L473.33 555.96L468.99 555.96Z" fill="#1818cc"/>
<path d="M473.49 560.07L475.66 556.26L471.32 556.26Z" fill="#1818cc"/>
<path d="M475.82 559.59L477.99 555.78L473.66 555.78Z" fill="#1818cc"/>
<path d="M478.16 560.43L480.33 556.62L475.99 556.62Z" fill="#1818cc"/>
<path d="M480.49 558.74L482.66 554.93L478.32 554.93Z" fill="#1818cc"/>
<path d="M482.82 559.44L484.99 555.62L480.65 555.62Z" fill="#1818cc"/>
<path d="M485.15 558.35L487.32 554.54L482.98 554.54Z" fill="#1818cc"/>
<path d="M487.48 560.08L489.65 556.27L485.31 556.27Z" fill="#1818cc"/>
<path d="M489.81 559.78L491.98 555.96L487.64 555.96Z" fill="#1818cc"/>
<path d="M492.14 560.63L494.31 556.82L489.97 556.82Z" fill="#1818cc"/>
<path d="M494.47 559.66L496.64 555.85L492.30 555.85Z" fill="#1818cc"/>
<path d="M496.80 558.89L498.97 555.07L494.63 555.07Z" fill="#1818cc"/>
<path d="M499.13 560.60L501.30 556.78L496.97 556.78Z" fill="#1818cc"/>
<path d="M501.47 559.34L503.64 555.53L499.30 555.53Z" fill="#1818cc"/>
<path d="M503.80 559.44L505.97 555.62L501.63 555.62Z" fill="#1818cc"/>
<path d="M506.13 560.04L508.30 556.23L503.96 556.23Z" fill="#1818cc"/>
<path d="M508.46 560.50L510.63 556.69L506.29 556.69Z" fill="#1818cc"/>
<path d="M510.79 559.99L512.96 556.17L508.62 556.17Z" fill="#1818cc"/>
</g>
<line x1="88.50" y1="37.50" x2="88.50" y2="259.60" stroke="#333" stroke-width="1.00" stroke-dasharray="3.2,3.6" stroke-dashoffset="-0.8"/>
<line x1="113.70" y1="37.50" x2="113.70" y2="259.60" stroke="#333" stroke-width="1.60" stroke-dasharray="3.2,3.6" stroke-dashoffset="-0.8"/>
<line x1="136.80" y1="37.50" x2="136.80" y2="259.60" stroke="#333" stroke-width="1.00" stroke-dasharray="3.2,3.6" stroke-dashoffset="-0.8"/>
<line x1="160.74" y1="37.50" x2="160.74" y2="259.60" stroke="#333" stroke-width="1.00" stroke-dasharray="3.2,3.6" stroke-dashoffset="-0.8"/>
<line x1="170.40" y1="37.50" x2="170.40" y2="259.60" stroke="#333" stroke-width="1.00" stroke-dasharray="3.2,3.6" stroke-dashoffset="-0.8"/>
<line x1="191.40" y1="37.50" x2="191.40" y2="259.60" stroke="#333" stroke-width="1.00" stroke-dasharray="3.2,3.6" stroke-dashoffset="-0.8"/>
<rect x="40.20" y="37.50" width="210.00" height="222.10" fill="none" stroke="#000" stroke-width="1.5"/>
<line x1="61.20" y1="259.60" x2="61.20" y2="262.80" stroke="#000" stroke-width="1.4"/>
<text x="61.20" y="274.10" text-anchor="middle" font-size="11.6">98</text>
<line x1="103.20" y1="259.60" x2="103.20" y2="262.80" stroke="#000" stroke-width="1.4"/>
<text x="103.20" y="274.10" text-anchor="middle" font-size="11.6">100</text>
<line x1="145.20" y1="259.60" x2="145.20" y2="262.80" stroke="#000" stroke-width="1.4"/>
<text x="145.20" y="274.10" text-anchor="middle" font-size="11.6">102</text>
<line x1="187.20" y1="259.60" x2="187.20" y2="262.80" stroke="#000" stroke-width="1.4"/>
<text x="187.20" y="274.10" text-anchor="middle" font-size="11.6">104</text>
<line x1="229.20" y1="259.60" x2="229.20" y2="262.80" stroke="#000" stroke-width="1.4"/>
<text x="229.20" y="274.10" text-anchor="middle" font-size="11.6">106</text>
<line x1="40.20" y1="259.60" x2="40.20" y2="261.60" stroke="#000" stroke-width="1.3"/>
<line x1="82.20" y1="259.60" x2="82.20" y2="261.60" stroke="#000" stroke-width="1.3"/>
<line x1="124.20" y1="259.60" x2="124.20" y2="261.60" stroke="#000" stroke-width="1.3"/>
<line x1="166.20" y1="259.60" x2="166.20" y2="261.60" stroke="#000" stroke-width="1.3"/>
<line x1="208.20" y1="259.60" x2="208.20" y2="261.60" stroke="#000" stroke-width="1.3"/>
<line x1="250.20" y1="259.60" x2="250.20" y2="261.60" stroke="#000" stroke-width="1.3"/>
<line x1="37.00" y1="259.60" x2="40.20" y2="259.60" stroke="#000" stroke-width="1.4"/>
<text x="34.70" y="262.60" text-anchor="end" font-size="11.6">0.0</text>
<line x1="37.00" y1="210.24" x2="40.20" y2="210.24" stroke="#000" stroke-width="1.4"/>
<text x="34.70" y="213.24" text-anchor="end" font-size="11.6">0.1</text>
<line x1="37.00" y1="160.89" x2="40.20" y2="160.89" stroke="#000" stroke-width="1.4"/>
<text x="34.70" y="163.89" text-anchor="end" font-size="11.6">0.2</text>
<line x1="37.00" y1="111.53" x2="40.20" y2="111.53" stroke="#000" stroke-width="1.4"/>
<text x="34.70" y="114.53" text-anchor="end" font-size="11.6">0.3</text>
<line x1="37.00" y1="62.18" x2="40.20" y2="62.18" stroke="#000" stroke-width="1.4"/>
<text x="34.70" y="65.18" text-anchor="end" font-size="11.6">0.4</text>
<line x1="38.20" y1="234.92" x2="40.20" y2="234.92" stroke="#000" stroke-width="1.3"/>
<line x1="38.20" y1="185.57" x2="40.20" y2="185.57" stroke="#000" stroke-width="1.3"/>
<line x1="38.20" y1="136.21" x2="40.20" y2="136.21" stroke="#000" stroke-width="1.3"/>
<line x1="38.20" y1="86.86" x2="40.20" y2="86.86" stroke="#000" stroke-width="1.3"/>
<text x="144.90" y="286.00" text-anchor="middle" font-size="11.9">Binding Energy [eV]</text>
<text transform="translate(10.70,156.55) rotate(-90)" text-anchor="middle" font-size="11.9">Intensity [kcps]</text>
<text x="45.8" y="56.5" font-size="16.6" font-weight="bold" fill="#000">Si2p</text>
<rect x="165.00" y="40.30" width="75.50" height="22.00" fill="#fff"/>
<text x="167.50" y="57.80" font-size="16.5" font-weight="bold" fill="#000">CHF<tspan font-size="10" dy="7.6" dx="0.6">3</tspan><tspan dy="-7.6" dx="1.0">, 20°</tspan></text>
<text transform="translate(92.70,34.00) rotate(-90)" font-size="11.2">Si</text>
<text transform="translate(112.00,34.00) rotate(-90)" font-size="11.2">SiF</text>
<text transform="translate(123.60,34.00) rotate(-90)" font-size="11.2">SiC</text>
<text transform="translate(140.20,34.00) rotate(-90)" font-size="11.2">SiF<tspan font-size="7.2" dy="5.2" dx="-0.3">2</tspan></text>
<text transform="translate(161.40,34.00) rotate(-90)" font-size="11.2">SiF<tspan font-size="7.2" dy="5.2" dx="-0.3">3</tspan></text>
<text transform="translate(176.00,34.00) rotate(-90)" font-size="11.2">SiO<tspan font-size="7.2" dy="5.2" dx="-0.3">2</tspan></text>
<text transform="translate(200.80,34.00) rotate(-90)" font-size="11.2">SiO<tspan font-size="7.2" dy="4.4" dx="-0.3">x</tspan><tspan dy="-4.4" dx="1">F</tspan><tspan font-size="7.2" dy="4.4" dx="-0.3">y</tspan></text>
<line x1="339.14" y1="36.50" x2="339.14" y2="258.40" stroke="#333" stroke-width="1.00" stroke-dasharray="3.2,3.6" stroke-dashoffset="-0.8"/>
<line x1="358.41" y1="36.50" x2="358.41" y2="258.40" stroke="#333" stroke-width="1.00" stroke-dasharray="3.2,3.6" stroke-dashoffset="-0.8"/>
<line x1="381.18" y1="36.50" x2="381.18" y2="258.40" stroke="#333" stroke-width="1.00" stroke-dasharray="3.2,3.6" stroke-dashoffset="-0.8"/>
<line x1="417.96" y1="36.50" x2="417.96" y2="258.40" stroke="#333" stroke-width="1.00" stroke-dasharray="3.2,3.6" stroke-dashoffset="-0.8"/>
<line x1="454.75" y1="36.50" x2="454.75" y2="258.40" stroke="#333" stroke-width="1.00" stroke-dasharray="3.2,3.6" stroke-dashoffset="-0.8"/>
<rect x="297.10" y="36.50" width="210.20" height="221.90" fill="none" stroke="#000" stroke-width="1.5"/>
<line x1="314.62" y1="258.40" x2="314.62" y2="261.60" stroke="#000" stroke-width="1.4"/>
<text x="314.62" y="272.90" text-anchor="middle" font-size="11.6">282</text>
<line x1="349.65" y1="258.40" x2="349.65" y2="261.60" stroke="#000" stroke-width="1.4"/>
<text x="349.65" y="272.90" text-anchor="middle" font-size="11.6">284</text>
<line x1="384.68" y1="258.40" x2="384.68" y2="261.60" stroke="#000" stroke-width="1.4"/>
<text x="384.68" y="272.90" text-anchor="middle" font-size="11.6">286</text>
<line x1="419.72" y1="258.40" x2="419.72" y2="261.60" stroke="#000" stroke-width="1.4"/>
<text x="419.72" y="272.90" text-anchor="middle" font-size="11.6">288</text>
<line x1="454.75" y1="258.40" x2="454.75" y2="261.60" stroke="#000" stroke-width="1.4"/>
<text x="454.75" y="272.90" text-anchor="middle" font-size="11.6">290</text>
<line x1="489.78" y1="258.40" x2="489.78" y2="261.60" stroke="#000" stroke-width="1.4"/>
<text x="489.78" y="272.90" text-anchor="middle" font-size="11.6">292</text>
<line x1="297.10" y1="258.40" x2="297.10" y2="260.40" stroke="#000" stroke-width="1.3"/>
<line x1="332.13" y1="258.40" x2="332.13" y2="260.40" stroke="#000" stroke-width="1.3"/>
<line x1="367.17" y1="258.40" x2="367.17" y2="260.40" stroke="#000" stroke-width="1.3"/>
<line x1="402.20" y1="258.40" x2="402.20" y2="260.40" stroke="#000" stroke-width="1.3"/>
<line x1="437.23" y1="258.40" x2="437.23" y2="260.40" stroke="#000" stroke-width="1.3"/>
<line x1="472.27" y1="258.40" x2="472.27" y2="260.40" stroke="#000" stroke-width="1.3"/>
<line x1="507.30" y1="258.40" x2="507.30" y2="260.40" stroke="#000" stroke-width="1.3"/>
<line x1="293.90" y1="258.40" x2="297.10" y2="258.40" stroke="#000" stroke-width="1.4"/>
<text x="291.60" y="261.40" text-anchor="end" font-size="11.6">0.0</text>
<line x1="293.90" y1="214.02" x2="297.10" y2="214.02" stroke="#000" stroke-width="1.4"/>
<text x="291.60" y="217.02" text-anchor="end" font-size="11.6">0.5</text>
<line x1="293.90" y1="169.64" x2="297.10" y2="169.64" stroke="#000" stroke-width="1.4"/>
<text x="291.60" y="172.64" text-anchor="end" font-size="11.6">1.0</text>
<line x1="293.90" y1="125.26" x2="297.10" y2="125.26" stroke="#000" stroke-width="1.4"/>
<text x="291.60" y="128.26" text-anchor="end" font-size="11.6">1.5</text>
<line x1="293.90" y1="80.88" x2="297.10" y2="80.88" stroke="#000" stroke-width="1.4"/>
<text x="291.60" y="83.88" text-anchor="end" font-size="11.6">2.0</text>
<line x1="293.90" y1="36.50" x2="297.10" y2="36.50" stroke="#000" stroke-width="1.4"/>
<text x="291.60" y="39.50" text-anchor="end" font-size="11.6">2.5</text>
<line x1="295.10" y1="236.21" x2="297.10" y2="236.21" stroke="#000" stroke-width="1.3"/>
<line x1="295.10" y1="191.83" x2="297.10" y2="191.83" stroke="#000" stroke-width="1.3"/>
<line x1="295.10" y1="147.45" x2="297.10" y2="147.45" stroke="#000" stroke-width="1.3"/>
<line x1="295.10" y1="103.07" x2="297.10" y2="103.07" stroke="#000" stroke-width="1.3"/>
<line x1="295.10" y1="58.69" x2="297.10" y2="58.69" stroke="#000" stroke-width="1.3"/>
<text x="401.90" y="284.80" text-anchor="middle" font-size="11.9">Binding Energy [eV]</text>
<text transform="translate(266.60,157.45) rotate(-90)" text-anchor="middle" font-size="11.9">Intensity [kcps]</text>
<text x="301.6" y="55.3" font-size="16.5" font-weight="bold" fill="#000">C1s</text>
<rect x="423.00" y="125.10" width="75.50" height="22.00" fill="#fff"/>
<text x="425.50" y="142.60" font-size="16.5" font-weight="bold" fill="#000">CHF<tspan font-size="10" dy="7.6" dx="0.6">3</tspan><tspan dy="-7.6" dx="1.0">, 20°</tspan></text>
<text transform="translate(344.20,32.00) rotate(-90)" font-size="11.4">C-Si</text>
<text transform="translate(362.50,32.00) rotate(-90)" font-size="11.4">C-C</text>
<text transform="translate(385.80,32.00) rotate(-90)" font-size="11.4">C-CF<tspan font-size="7.2" dy="5.2" dx="-0.3">x</tspan></text>
<text transform="translate(422.00,32.00) rotate(-90)" font-size="11.4">C-F</text>
<text transform="translate(459.50,32.00) rotate(-90)" font-size="11.4">C-F<tspan font-size="7.2" dy="5.2" dx="-0.3">2</tspan></text>
<rect x="363" y="42" width="132" height="66" fill="#fff"/>
<line x1="365.3" y1="50.80" x2="397" y2="50.80" stroke="#000000" stroke-width="1.3"/>
<rect x="379.50" y="49.00" width="3.60" height="3.60" fill="#000000"/>
<text x="397.5" y="55.60" font-size="13.3">After Deposition</text>
<line x1="365.3" y1="68.00" x2="397" y2="68.00" stroke="#e01414" stroke-width="1.3"/>
<circle cx="381.30" cy="68.00" r="2.00" fill="#e01414"/>
<text x="397.5" y="72.80" font-size="13.3">During Etch, 5 s</text>
<line x1="365.3" y1="85.50" x2="397" y2="85.50" stroke="#1ee01e" stroke-width="1.3"/>
<path d="M381.30 83.12L383.60 87.16L379.00 87.16Z" fill="#1ee01e"/>
<text x="397.5" y="90.30" font-size="13.3">During Etch, 15 s</text>
<line x1="365.3" y1="102.80" x2="397" y2="102.80" stroke="#1818cc" stroke-width="1.3"/>
<path d="M381.30 105.18L383.60 101.14L379.00 101.14Z" fill="#1818cc"/>
<text x="397.5" y="107.60" font-size="13.3">After Etch, 40 s</text>
<line x1="120.58" y1="341.00" x2="120.58" y2="562.00" stroke="#333" stroke-width="1.00" stroke-dasharray="3.2,3.6" stroke-dashoffset="-0.8"/>
<line x1="143.40" y1="341.00" x2="143.40" y2="562.00" stroke="#333" stroke-width="1.00" stroke-dasharray="3.2,3.6" stroke-dashoffset="-0.8"/>
<rect x="39.50" y="341.00" width="210.20" height="221.00" fill="none" stroke="#000" stroke-width="1.5"/>
<line x1="39.50" y1="562.00" x2="39.50" y2="565.20" stroke="#000" stroke-width="1.4"/>
<text x="39.50" y="576.50" text-anchor="middle" font-size="11.6">530</text>
<line x1="99.56" y1="562.00" x2="99.56" y2="565.20" stroke="#000" stroke-width="1.4"/>
<text x="99.56" y="576.50" text-anchor="middle" font-size="11.6">532</text>
<line x1="159.61" y1="562.00" x2="159.61" y2="565.20" stroke="#000" stroke-width="1.4"/>
<text x="159.61" y="576.50" text-anchor="middle" font-size="11.6">534</text>
<line x1="219.67" y1="562.00" x2="219.67" y2="565.20" stroke="#000" stroke-width="1.4"/>
<text x="219.67" y="576.50" text-anchor="middle" font-size="11.6">536</text>
<line x1="69.53" y1="562.00" x2="69.53" y2="564.00" stroke="#000" stroke-width="1.3"/>
<line x1="129.59" y1="562.00" x2="129.59" y2="564.00" stroke="#000" stroke-width="1.3"/>
<line x1="189.64" y1="562.00" x2="189.64" y2="564.00" stroke="#000" stroke-width="1.3"/>
<line x1="249.70" y1="562.00" x2="249.70" y2="564.00" stroke="#000" stroke-width="1.3"/>
<line x1="36.30" y1="562.00" x2="39.50" y2="562.00" stroke="#000" stroke-width="1.4"/>
<text x="34.00" y="565.00" text-anchor="end" font-size="11.6">0.0</text>
<line x1="36.30" y1="488.33" x2="39.50" y2="488.33" stroke="#000" stroke-width="1.4"/>
<text x="34.00" y="491.33" text-anchor="end" font-size="11.6">0.5</text>
<line x1="36.30" y1="414.67" x2="39.50" y2="414.67" stroke="#000" stroke-width="1.4"/>
<text x="34.00" y="417.67" text-anchor="end" font-size="11.6">1.0</text>
<line x1="36.30" y1="341.00" x2="39.50" y2="341.00" stroke="#000" stroke-width="1.4"/>
<text x="34.00" y="344.00" text-anchor="end" font-size="11.6">1.5</text>
<line x1="37.50" y1="525.17" x2="39.50" y2="525.17" stroke="#000" stroke-width="1.3"/>
<line x1="37.50" y1="451.50" x2="39.50" y2="451.50" stroke="#000" stroke-width="1.3"/>
<line x1="37.50" y1="377.83" x2="39.50" y2="377.83" stroke="#000" stroke-width="1.3"/>
<text x="144.30" y="588.40" text-anchor="middle" font-size="11.9">Binding Energy [eV]</text>
<text transform="translate(9.80,460.50) rotate(-90)" text-anchor="middle" font-size="11.9">Intensity [kcps]</text>
<rect x="47.00" y="347.30" width="75.50" height="22.00" fill="#fff"/>
<text x="49.50" y="364.80" font-size="16.5" font-weight="bold" fill="#000">CHF<tspan font-size="10" dy="7.6" dx="0.6">3</tspan><tspan dy="-7.6" dx="1.0">, 20°</tspan></text>
<text x="214.5" y="364.4" font-size="16.5" font-weight="bold" fill="#000">O1s</text>
<text transform="translate(123.70,336.50) rotate(-90)" font-size="11.3">SiO<tspan font-size="7.2" dy="5.2" dx="-0.3">2</tspan></text>
<text transform="translate(150.80,336.50) rotate(-90)" font-size="11.3">SiO<tspan font-size="7.2" dy="5.2" dx="-0.3">x</tspan><tspan dy="-5.2" dx="0">F</tspan><tspan font-size="7.2" dy="5.2" dx="-0.3">y</tspan></text>
<line x1="383.06" y1="337.50" x2="383.06" y2="559.60" stroke="#333" stroke-width="1.00" stroke-dasharray="3.2,3.6" stroke-dashoffset="-0.8"/>
<line x1="401.24" y1="337.50" x2="401.24" y2="559.60" stroke="#333" stroke-width="1.00" stroke-dasharray="3.2,3.6" stroke-dashoffset="-0.8"/>
<line x1="410.56" y1="337.50" x2="410.56" y2="559.60" stroke="#333" stroke-width="1.00" stroke-dasharray="3.2,3.6" stroke-dashoffset="-0.8"/>
<rect x="301.00" y="337.50" width="209.80" height="222.10" fill="none" stroke="#000" stroke-width="1.5"/>
<line x1="324.31" y1="559.60" x2="324.31" y2="562.80" stroke="#000" stroke-width="1.4"/>
<text x="324.31" y="574.10" text-anchor="middle" font-size="11.6">684</text>
<line x1="370.93" y1="559.60" x2="370.93" y2="562.80" stroke="#000" stroke-width="1.4"/>
<text x="370.93" y="574.10" text-anchor="middle" font-size="11.6">686</text>
<line x1="417.56" y1="559.60" x2="417.56" y2="562.80" stroke="#000" stroke-width="1.4"/>
<text x="417.56" y="574.10" text-anchor="middle" font-size="11.6">688</text>
<line x1="464.18" y1="559.60" x2="464.18" y2="562.80" stroke="#000" stroke-width="1.4"/>
<text x="464.18" y="574.10" text-anchor="middle" font-size="11.6">690</text>
<line x1="510.80" y1="559.60" x2="510.80" y2="562.80" stroke="#000" stroke-width="1.4"/>
<text x="510.80" y="574.10" text-anchor="middle" font-size="11.6">692</text>
<line x1="301.00" y1="559.60" x2="301.00" y2="561.60" stroke="#000" stroke-width="1.3"/>
<line x1="347.62" y1="559.60" x2="347.62" y2="561.60" stroke="#000" stroke-width="1.3"/>
<line x1="394.24" y1="559.60" x2="394.24" y2="561.60" stroke="#000" stroke-width="1.3"/>
<line x1="440.87" y1="559.60" x2="440.87" y2="561.60" stroke="#000" stroke-width="1.3"/>
<line x1="487.49" y1="559.60" x2="487.49" y2="561.60" stroke="#000" stroke-width="1.3"/>
<line x1="297.80" y1="559.60" x2="301.00" y2="559.60" stroke="#000" stroke-width="1.4"/>
<text x="295.50" y="562.60" text-anchor="end" font-size="11.6">0.0</text>
<line x1="297.80" y1="504.08" x2="301.00" y2="504.08" stroke="#000" stroke-width="1.4"/>
<text x="295.50" y="507.08" text-anchor="end" font-size="11.6">2.0</text>
<line x1="297.80" y1="448.55" x2="301.00" y2="448.55" stroke="#000" stroke-width="1.4"/>
<text x="295.50" y="451.55" text-anchor="end" font-size="11.6">4.0</text>
<line x1="297.80" y1="393.02" x2="301.00" y2="393.02" stroke="#000" stroke-width="1.4"/>
<text x="295.50" y="396.02" text-anchor="end" font-size="11.6">6.0</text>
<line x1="297.80" y1="337.50" x2="301.00" y2="337.50" stroke="#000" stroke-width="1.4"/>
<text x="295.50" y="340.50" text-anchor="end" font-size="11.6">8.0</text>
<line x1="299.00" y1="531.84" x2="301.00" y2="531.84" stroke="#000" stroke-width="1.3"/>
<line x1="299.00" y1="476.31" x2="301.00" y2="476.31" stroke="#000" stroke-width="1.3"/>
<line x1="299.00" y1="420.79" x2="301.00" y2="420.79" stroke="#000" stroke-width="1.3"/>
<line x1="299.00" y1="365.26" x2="301.00" y2="365.26" stroke="#000" stroke-width="1.3"/>
<text x="405.60" y="586.00" text-anchor="middle" font-size="11.9">Binding Energy [eV]</text>
<text transform="translate(270.00,457.55) rotate(-90)" text-anchor="middle" font-size="11.9">Intensity [kcps]</text>
<rect x="305.20" y="344.00" width="75.50" height="22.00" fill="#fff"/>
<text x="307.70" y="361.50" font-size="16.5" font-weight="bold" fill="#000">CHF<tspan font-size="10" dy="7.6" dx="0.6">3</tspan><tspan dy="-7.6" dx="1.0">, 20°</tspan></text>
<text x="477.8" y="359" font-size="16.5" font-weight="bold" fill="#000">F1s</text>
<text transform="translate(381.20,333.00) rotate(-90)" font-size="12.6">SiF<tspan font-size="7.8" dy="6.5" dx="1">x</tspan></text>
<text transform="translate(404.90,334.70) rotate(-90)" font-size="12.6">SiO<tspan font-size="7.8" dy="6.3" dx="0.5">x</tspan><tspan dy="-6.3" dx="0.5">F</tspan><tspan font-size="7.8" dy="6.3" dx="1.3">y</tspan></text>
<text transform="translate(423.60,332.30) rotate(-90)" font-size="12.6">CF</text>
</svg>
</body></html>
